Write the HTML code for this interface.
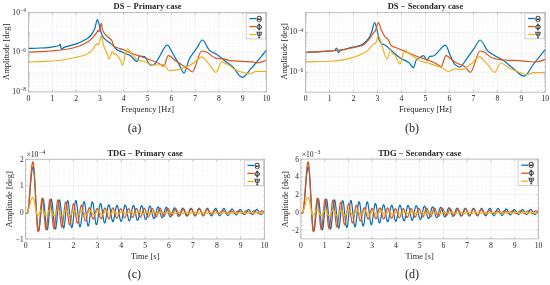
<!DOCTYPE html>
<html><head><meta charset="utf-8"><style>
html,body{margin:0;padding:0;background:#fff;}
body{width:550px;height:285px;overflow:hidden;font-family:"Liberation Serif",serif;}
svg{display:block;filter:blur(0.35px);}
</style></head><body>
<svg width="550" height="285" viewBox="0 0 550 285">
<rect width="550" height="285" fill="#fff"/>
<g font-family="Liberation Serif, serif" fill="#262626">
<line x1="33.26" y1="12.50" x2="33.26" y2="91.90" stroke="#f8f8f8" stroke-width="0.6"/>
<line x1="38.02" y1="12.50" x2="38.02" y2="91.90" stroke="#f8f8f8" stroke-width="0.6"/>
<line x1="42.79" y1="12.50" x2="42.79" y2="91.90" stroke="#f8f8f8" stroke-width="0.6"/>
<line x1="47.55" y1="12.50" x2="47.55" y2="91.90" stroke="#f8f8f8" stroke-width="0.6"/>
<line x1="57.07" y1="12.50" x2="57.07" y2="91.90" stroke="#f8f8f8" stroke-width="0.6"/>
<line x1="61.83" y1="12.50" x2="61.83" y2="91.90" stroke="#f8f8f8" stroke-width="0.6"/>
<line x1="66.60" y1="12.50" x2="66.60" y2="91.90" stroke="#f8f8f8" stroke-width="0.6"/>
<line x1="71.36" y1="12.50" x2="71.36" y2="91.90" stroke="#f8f8f8" stroke-width="0.6"/>
<line x1="80.88" y1="12.50" x2="80.88" y2="91.90" stroke="#f8f8f8" stroke-width="0.6"/>
<line x1="85.64" y1="12.50" x2="85.64" y2="91.90" stroke="#f8f8f8" stroke-width="0.6"/>
<line x1="90.41" y1="12.50" x2="90.41" y2="91.90" stroke="#f8f8f8" stroke-width="0.6"/>
<line x1="95.17" y1="12.50" x2="95.17" y2="91.90" stroke="#f8f8f8" stroke-width="0.6"/>
<line x1="104.69" y1="12.50" x2="104.69" y2="91.90" stroke="#f8f8f8" stroke-width="0.6"/>
<line x1="109.45" y1="12.50" x2="109.45" y2="91.90" stroke="#f8f8f8" stroke-width="0.6"/>
<line x1="114.22" y1="12.50" x2="114.22" y2="91.90" stroke="#f8f8f8" stroke-width="0.6"/>
<line x1="118.98" y1="12.50" x2="118.98" y2="91.90" stroke="#f8f8f8" stroke-width="0.6"/>
<line x1="128.50" y1="12.50" x2="128.50" y2="91.90" stroke="#f8f8f8" stroke-width="0.6"/>
<line x1="133.26" y1="12.50" x2="133.26" y2="91.90" stroke="#f8f8f8" stroke-width="0.6"/>
<line x1="138.03" y1="12.50" x2="138.03" y2="91.90" stroke="#f8f8f8" stroke-width="0.6"/>
<line x1="142.79" y1="12.50" x2="142.79" y2="91.90" stroke="#f8f8f8" stroke-width="0.6"/>
<line x1="152.31" y1="12.50" x2="152.31" y2="91.90" stroke="#f8f8f8" stroke-width="0.6"/>
<line x1="157.07" y1="12.50" x2="157.07" y2="91.90" stroke="#f8f8f8" stroke-width="0.6"/>
<line x1="161.84" y1="12.50" x2="161.84" y2="91.90" stroke="#f8f8f8" stroke-width="0.6"/>
<line x1="166.60" y1="12.50" x2="166.60" y2="91.90" stroke="#f8f8f8" stroke-width="0.6"/>
<line x1="176.12" y1="12.50" x2="176.12" y2="91.90" stroke="#f8f8f8" stroke-width="0.6"/>
<line x1="180.88" y1="12.50" x2="180.88" y2="91.90" stroke="#f8f8f8" stroke-width="0.6"/>
<line x1="185.65" y1="12.50" x2="185.65" y2="91.90" stroke="#f8f8f8" stroke-width="0.6"/>
<line x1="190.41" y1="12.50" x2="190.41" y2="91.90" stroke="#f8f8f8" stroke-width="0.6"/>
<line x1="199.93" y1="12.50" x2="199.93" y2="91.90" stroke="#f8f8f8" stroke-width="0.6"/>
<line x1="204.69" y1="12.50" x2="204.69" y2="91.90" stroke="#f8f8f8" stroke-width="0.6"/>
<line x1="209.46" y1="12.50" x2="209.46" y2="91.90" stroke="#f8f8f8" stroke-width="0.6"/>
<line x1="214.22" y1="12.50" x2="214.22" y2="91.90" stroke="#f8f8f8" stroke-width="0.6"/>
<line x1="223.74" y1="12.50" x2="223.74" y2="91.90" stroke="#f8f8f8" stroke-width="0.6"/>
<line x1="228.50" y1="12.50" x2="228.50" y2="91.90" stroke="#f8f8f8" stroke-width="0.6"/>
<line x1="233.27" y1="12.50" x2="233.27" y2="91.90" stroke="#f8f8f8" stroke-width="0.6"/>
<line x1="238.03" y1="12.50" x2="238.03" y2="91.90" stroke="#f8f8f8" stroke-width="0.6"/>
<line x1="247.55" y1="12.50" x2="247.55" y2="91.90" stroke="#f8f8f8" stroke-width="0.6"/>
<line x1="252.31" y1="12.50" x2="252.31" y2="91.90" stroke="#f8f8f8" stroke-width="0.6"/>
<line x1="257.08" y1="12.50" x2="257.08" y2="91.90" stroke="#f8f8f8" stroke-width="0.6"/>
<line x1="261.84" y1="12.50" x2="261.84" y2="91.90" stroke="#f8f8f8" stroke-width="0.6"/>
<line x1="28.50" y1="32.35" x2="266.60" y2="32.35" stroke="#f8f8f8" stroke-width="0.6"/>
<line x1="28.50" y1="26.37" x2="266.60" y2="26.37" stroke="#f8f8f8" stroke-width="0.6"/>
<line x1="28.50" y1="22.88" x2="266.60" y2="22.88" stroke="#f8f8f8" stroke-width="0.6"/>
<line x1="28.50" y1="20.40" x2="266.60" y2="20.40" stroke="#f8f8f8" stroke-width="0.6"/>
<line x1="28.50" y1="18.48" x2="266.60" y2="18.48" stroke="#f8f8f8" stroke-width="0.6"/>
<line x1="28.50" y1="16.90" x2="266.60" y2="16.90" stroke="#f8f8f8" stroke-width="0.6"/>
<line x1="28.50" y1="15.57" x2="266.60" y2="15.57" stroke="#f8f8f8" stroke-width="0.6"/>
<line x1="28.50" y1="14.42" x2="266.60" y2="14.42" stroke="#f8f8f8" stroke-width="0.6"/>
<line x1="28.50" y1="13.41" x2="266.60" y2="13.41" stroke="#f8f8f8" stroke-width="0.6"/>
<line x1="28.50" y1="46.22" x2="266.60" y2="46.22" stroke="#f8f8f8" stroke-width="0.6"/>
<line x1="28.50" y1="42.73" x2="266.60" y2="42.73" stroke="#f8f8f8" stroke-width="0.6"/>
<line x1="28.50" y1="40.25" x2="266.60" y2="40.25" stroke="#f8f8f8" stroke-width="0.6"/>
<line x1="28.50" y1="38.33" x2="266.60" y2="38.33" stroke="#f8f8f8" stroke-width="0.6"/>
<line x1="28.50" y1="36.75" x2="266.60" y2="36.75" stroke="#f8f8f8" stroke-width="0.6"/>
<line x1="28.50" y1="35.42" x2="266.60" y2="35.42" stroke="#f8f8f8" stroke-width="0.6"/>
<line x1="28.50" y1="34.27" x2="266.60" y2="34.27" stroke="#f8f8f8" stroke-width="0.6"/>
<line x1="28.50" y1="33.26" x2="266.60" y2="33.26" stroke="#f8f8f8" stroke-width="0.6"/>
<line x1="28.50" y1="72.05" x2="266.60" y2="72.05" stroke="#f8f8f8" stroke-width="0.6"/>
<line x1="28.50" y1="66.07" x2="266.60" y2="66.07" stroke="#f8f8f8" stroke-width="0.6"/>
<line x1="28.50" y1="62.58" x2="266.60" y2="62.58" stroke="#f8f8f8" stroke-width="0.6"/>
<line x1="28.50" y1="60.10" x2="266.60" y2="60.10" stroke="#f8f8f8" stroke-width="0.6"/>
<line x1="28.50" y1="58.18" x2="266.60" y2="58.18" stroke="#f8f8f8" stroke-width="0.6"/>
<line x1="28.50" y1="56.60" x2="266.60" y2="56.60" stroke="#f8f8f8" stroke-width="0.6"/>
<line x1="28.50" y1="55.27" x2="266.60" y2="55.27" stroke="#f8f8f8" stroke-width="0.6"/>
<line x1="28.50" y1="54.12" x2="266.60" y2="54.12" stroke="#f8f8f8" stroke-width="0.6"/>
<line x1="28.50" y1="53.11" x2="266.60" y2="53.11" stroke="#f8f8f8" stroke-width="0.6"/>
<line x1="28.50" y1="85.92" x2="266.60" y2="85.92" stroke="#f8f8f8" stroke-width="0.6"/>
<line x1="28.50" y1="82.43" x2="266.60" y2="82.43" stroke="#f8f8f8" stroke-width="0.6"/>
<line x1="28.50" y1="79.95" x2="266.60" y2="79.95" stroke="#f8f8f8" stroke-width="0.6"/>
<line x1="28.50" y1="78.03" x2="266.60" y2="78.03" stroke="#f8f8f8" stroke-width="0.6"/>
<line x1="28.50" y1="76.45" x2="266.60" y2="76.45" stroke="#f8f8f8" stroke-width="0.6"/>
<line x1="28.50" y1="75.12" x2="266.60" y2="75.12" stroke="#f8f8f8" stroke-width="0.6"/>
<line x1="28.50" y1="73.97" x2="266.60" y2="73.97" stroke="#f8f8f8" stroke-width="0.6"/>
<line x1="28.50" y1="72.96" x2="266.60" y2="72.96" stroke="#f8f8f8" stroke-width="0.6"/>
<line x1="28.50" y1="12.50" x2="28.50" y2="91.90" stroke="#ededed" stroke-width="0.7"/>
<line x1="52.31" y1="12.50" x2="52.31" y2="91.90" stroke="#ededed" stroke-width="0.7"/>
<line x1="76.12" y1="12.50" x2="76.12" y2="91.90" stroke="#ededed" stroke-width="0.7"/>
<line x1="99.93" y1="12.50" x2="99.93" y2="91.90" stroke="#ededed" stroke-width="0.7"/>
<line x1="123.74" y1="12.50" x2="123.74" y2="91.90" stroke="#ededed" stroke-width="0.7"/>
<line x1="147.55" y1="12.50" x2="147.55" y2="91.90" stroke="#ededed" stroke-width="0.7"/>
<line x1="171.36" y1="12.50" x2="171.36" y2="91.90" stroke="#ededed" stroke-width="0.7"/>
<line x1="195.17" y1="12.50" x2="195.17" y2="91.90" stroke="#ededed" stroke-width="0.7"/>
<line x1="218.98" y1="12.50" x2="218.98" y2="91.90" stroke="#ededed" stroke-width="0.7"/>
<line x1="242.79" y1="12.50" x2="242.79" y2="91.90" stroke="#ededed" stroke-width="0.7"/>
<line x1="266.60" y1="12.50" x2="266.60" y2="91.90" stroke="#ededed" stroke-width="0.7"/>
<line x1="28.50" y1="12.50" x2="266.60" y2="12.50" stroke="#ededed" stroke-width="0.7"/>
<line x1="28.50" y1="52.20" x2="266.60" y2="52.20" stroke="#ededed" stroke-width="0.7"/>
<line x1="28.50" y1="91.90" x2="266.60" y2="91.90" stroke="#ededed" stroke-width="0.7"/>
<path d="M28.50 48.40 C32.33 48.27 36.17 48.18 40.00 48.00 C43.33 47.84 46.67 47.64 50.00 47.30 C52.90 47.01 55.80 46.86 58.70 45.80 C59.17 45.63 59.63 44.20 60.10 44.20 C60.53 44.20 60.97 49.50 61.40 49.50 C62.13 49.50 62.87 47.96 63.60 47.60 C65.73 46.54 67.87 46.24 70.00 45.60 C72.33 44.90 74.67 44.42 77.00 43.60 C79.57 42.69 82.13 41.38 84.70 40.00 C85.80 39.41 86.90 38.82 88.00 38.00 C89.03 37.23 90.07 36.28 91.10 35.00 C92.33 33.47 93.57 31.47 94.80 28.50 C95.63 26.50 96.47 19.60 97.30 19.60 C97.90 19.60 98.50 22.19 99.10 24.30 C99.40 25.36 99.70 27.56 100.00 28.70 C100.83 31.87 101.67 34.51 102.50 36.00 C103.30 37.43 104.10 38.31 104.90 39.10 C106.53 40.70 108.17 41.48 109.80 42.80 C111.23 43.95 112.67 45.02 114.10 46.50 C114.93 47.36 115.77 49.03 116.60 49.60 C118.43 50.86 120.27 51.12 122.10 52.00 C123.07 52.46 124.03 53.07 125.00 53.50 C126.60 54.20 128.20 54.49 129.80 55.30 C132.27 56.54 134.73 61.50 137.20 61.50 C138.00 61.50 138.80 56.00 139.60 56.00 C141.23 56.00 142.87 56.24 144.50 56.60 C146.57 57.05 148.63 65.20 150.70 65.20 C151.80 65.20 152.90 64.89 154.00 64.50 C155.50 63.97 157.00 60.44 158.50 58.30 C161.43 54.12 164.37 45.20 167.30 45.20 C169.03 45.20 170.77 50.21 172.50 53.00 C174.87 56.80 177.23 61.23 179.60 65.40 C181.07 67.98 182.53 73.20 184.00 73.20 C185.73 73.20 187.47 62.53 189.20 59.20 C191.73 54.34 194.27 51.85 196.80 48.20 C198.70 45.46 200.60 40.00 202.50 40.00 C204.77 40.00 207.03 48.12 209.30 50.10 C212.53 52.93 215.77 53.60 219.00 55.90 C221.00 57.32 223.00 59.40 225.00 61.00 C227.43 62.95 229.87 64.35 232.30 66.50 C235.63 69.44 238.97 77.40 242.30 77.40 C245.03 77.40 247.77 72.15 250.50 69.20 C255.87 63.42 261.23 56.40 266.60 50.00" stroke="#0072BD" stroke-width="1.20" fill="none" stroke-linejoin="round"/>
<path d="M28.50 52.20 C34.00 51.90 39.50 51.66 45.00 51.30 C50.33 50.95 55.67 50.60 61.00 50.00 C65.67 49.47 70.33 48.70 75.00 47.50 C79.33 46.39 83.67 44.42 88.00 41.70 C89.47 40.78 90.93 39.32 92.40 37.80 C94.03 36.10 95.67 34.29 97.30 31.60 C97.50 31.27 97.70 30.40 97.90 30.40 C98.30 30.40 98.70 31.60 99.10 31.60 C99.83 31.60 100.57 23.30 101.30 23.30 C101.70 23.30 102.10 28.84 102.50 29.90 C103.70 33.07 104.90 34.10 106.10 35.40 C107.33 36.74 108.57 37.36 109.80 38.50 C110.43 39.08 111.07 39.51 111.70 40.40 C112.50 41.53 113.30 45.95 114.10 46.50 C115.13 47.22 116.17 47.34 117.20 47.70 C118.13 48.03 119.07 48.29 120.00 48.60 C121.53 49.11 123.07 49.58 124.60 50.20 C126.40 50.92 128.20 52.06 130.00 52.80 C134.83 54.79 139.67 56.05 144.50 57.80 C148.00 59.07 151.50 60.36 155.00 61.80 C156.67 62.49 158.33 63.16 160.00 64.00 C161.27 64.64 162.53 66.20 163.80 66.20 C165.27 66.20 166.73 55.70 168.20 55.70 C170.80 55.70 173.40 59.28 176.00 61.00 C180.10 63.71 184.20 66.23 188.30 68.90 C189.77 69.86 191.23 71.80 192.70 71.80 C193.47 71.80 194.23 68.78 195.00 67.10 C197.20 62.28 199.40 51.00 201.60 51.00 C203.20 51.00 204.80 51.51 206.40 52.00 C209.27 52.87 212.13 57.12 215.00 57.80 C218.33 58.59 221.67 58.51 225.00 59.20 C226.53 59.52 228.07 60.55 229.60 60.70 C234.13 61.16 238.67 61.16 243.20 61.40 C246.27 61.56 249.33 61.62 252.40 61.90 C253.93 62.04 255.47 62.80 257.00 62.80 C260.20 62.80 263.40 61.20 266.60 60.40" stroke="#D95319" stroke-width="1.20" fill="none" stroke-linejoin="round"/>
<path d="M28.50 61.90 C34.00 61.73 39.50 61.63 45.00 61.40 C49.57 61.21 54.13 60.93 58.70 60.50 C64.80 59.92 70.90 58.46 77.00 57.10 C79.67 56.51 82.33 55.94 85.00 55.00 C86.00 54.65 87.00 54.19 88.00 53.60 C89.47 52.73 90.93 51.29 92.40 49.80 C94.03 48.14 95.67 43.70 97.30 43.70 C97.70 43.70 98.10 44.90 98.50 44.90 C99.43 44.90 100.37 36.10 101.30 36.10 C102.10 36.10 102.90 43.54 103.70 45.90 C104.63 48.66 105.57 50.11 106.50 52.30 C107.40 54.41 108.30 58.80 109.20 58.80 C110.23 58.80 111.27 51.40 112.30 51.40 C112.90 51.40 113.50 54.50 114.10 54.50 C114.53 54.50 114.97 53.90 115.40 53.90 C117.03 53.90 118.67 57.17 120.30 60.00 C121.00 61.21 121.70 65.20 122.40 65.20 C123.33 65.20 124.27 57.84 125.20 55.00 C125.93 52.77 126.67 49.20 127.40 49.20 C129.03 49.20 130.67 53.06 132.30 54.70 C134.33 56.74 136.37 59.50 138.40 60.20 C140.43 60.90 142.47 60.89 144.50 61.50 C146.13 61.99 147.77 63.44 149.40 63.90 C151.27 64.43 153.13 65.00 155.00 65.00 C157.93 65.00 160.87 64.50 163.80 64.50 C165.53 64.50 167.27 70.60 169.00 70.60 C171.93 70.60 174.87 70.16 177.80 69.70 C180.43 69.29 183.07 68.16 185.70 67.10 C187.13 66.53 188.57 65.79 190.00 65.00 C191.67 64.08 193.33 62.94 195.00 61.80 C197.20 60.29 199.40 56.90 201.60 56.90 C204.17 56.90 206.73 61.85 209.30 64.60 C211.53 66.99 213.77 72.30 216.00 72.30 C217.97 72.30 219.93 61.70 221.90 61.70 C222.93 61.70 223.97 62.88 225.00 63.40 C226.53 64.17 228.07 64.60 229.60 65.50 C231.10 66.38 232.60 68.41 234.10 69.20 C237.13 70.80 240.17 71.78 243.20 72.50 C245.63 73.07 248.07 73.80 250.50 73.80 C252.33 73.80 254.17 71.40 256.00 71.40 C259.53 71.40 263.07 71.40 266.60 71.40" stroke="#EDB120" stroke-width="1.20" fill="none" stroke-linejoin="round"/>
<path d="M28.50 91.90V89.50M28.50 12.50V14.90M52.31 91.90V89.50M52.31 12.50V14.90M76.12 91.90V89.50M76.12 12.50V14.90M99.93 91.90V89.50M99.93 12.50V14.90M123.74 91.90V89.50M123.74 12.50V14.90M147.55 91.90V89.50M147.55 12.50V14.90M171.36 91.90V89.50M171.36 12.50V14.90M195.17 91.90V89.50M195.17 12.50V14.90M218.98 91.90V89.50M218.98 12.50V14.90M242.79 91.90V89.50M242.79 12.50V14.90M266.60 91.90V89.50M266.60 12.50V14.90M28.50 12.50H30.90M266.60 12.50H264.20M28.50 52.20H30.90M266.60 52.20H264.20M28.50 91.90H30.90M266.60 91.90H264.20M28.50 32.35H29.80M266.60 32.35H265.30M28.50 26.37H29.80M266.60 26.37H265.30M28.50 22.88H29.80M266.60 22.88H265.30M28.50 20.40H29.80M266.60 20.40H265.30M28.50 18.48H29.80M266.60 18.48H265.30M28.50 16.90H29.80M266.60 16.90H265.30M28.50 15.57H29.80M266.60 15.57H265.30M28.50 14.42H29.80M266.60 14.42H265.30M28.50 13.41H29.80M266.60 13.41H265.30M28.50 46.22H29.80M266.60 46.22H265.30M28.50 42.73H29.80M266.60 42.73H265.30M28.50 40.25H29.80M266.60 40.25H265.30M28.50 38.33H29.80M266.60 38.33H265.30M28.50 36.75H29.80M266.60 36.75H265.30M28.50 35.42H29.80M266.60 35.42H265.30M28.50 34.27H29.80M266.60 34.27H265.30M28.50 33.26H29.80M266.60 33.26H265.30M28.50 72.05H29.80M266.60 72.05H265.30M28.50 66.07H29.80M266.60 66.07H265.30M28.50 62.58H29.80M266.60 62.58H265.30M28.50 60.10H29.80M266.60 60.10H265.30M28.50 58.18H29.80M266.60 58.18H265.30M28.50 56.60H29.80M266.60 56.60H265.30M28.50 55.27H29.80M266.60 55.27H265.30M28.50 54.12H29.80M266.60 54.12H265.30M28.50 53.11H29.80M266.60 53.11H265.30M28.50 85.92H29.80M266.60 85.92H265.30M28.50 82.43H29.80M266.60 82.43H265.30M28.50 79.95H29.80M266.60 79.95H265.30M28.50 78.03H29.80M266.60 78.03H265.30M28.50 76.45H29.80M266.60 76.45H265.30M28.50 75.12H29.80M266.60 75.12H265.30M28.50 73.97H29.80M266.60 73.97H265.30M28.50 72.96H29.80M266.60 72.96H265.30" stroke="#b4b4b4" stroke-width="0.7" fill="none"/>
<rect x="28.50" y="12.50" width="238.10" height="79.40" fill="none" stroke="#b4b4b4" stroke-width="0.8"/>
<text x="28.50" y="100.80" font-size="7.70" text-anchor="middle" font-weight="normal" >0</text>
<text x="52.31" y="100.80" font-size="7.70" text-anchor="middle" font-weight="normal" >1</text>
<text x="76.12" y="100.80" font-size="7.70" text-anchor="middle" font-weight="normal" >2</text>
<text x="99.93" y="100.80" font-size="7.70" text-anchor="middle" font-weight="normal" >3</text>
<text x="123.74" y="100.80" font-size="7.70" text-anchor="middle" font-weight="normal" >4</text>
<text x="147.55" y="100.80" font-size="7.70" text-anchor="middle" font-weight="normal" >5</text>
<text x="171.36" y="100.80" font-size="7.70" text-anchor="middle" font-weight="normal" >6</text>
<text x="195.17" y="100.80" font-size="7.70" text-anchor="middle" font-weight="normal" >7</text>
<text x="218.98" y="100.80" font-size="7.70" text-anchor="middle" font-weight="normal" >8</text>
<text x="242.79" y="100.80" font-size="7.70" text-anchor="middle" font-weight="normal" >9</text>
<text x="266.60" y="100.80" font-size="7.70" text-anchor="middle" font-weight="normal" >10</text>
<text x="26.00" y="14.60" font-size="7.70" text-anchor="end">10<tspan font-size="5.30" dy="-2.7" dx="0.3">−4</tspan></text>
<text x="26.00" y="54.30" font-size="7.70" text-anchor="end">10<tspan font-size="5.30" dy="-2.7" dx="0.3">−6</tspan></text>
<text x="26.00" y="94.00" font-size="7.70" text-anchor="end">10<tspan font-size="5.30" dy="-2.7" dx="0.3">−8</tspan></text>
<text x="147.55" y="9.10" font-size="8.50" text-anchor="middle" font-weight="bold" >DS − Primary case</text>
<text x="147.55" y="111.60" font-size="8.40" text-anchor="middle" font-weight="normal" >Frequency [Hz]</text>
<text transform="translate(9.30 51.80) rotate(-90)" font-size="8.50" text-anchor="middle">Amplitude [deg]</text>
<text x="134.50" y="132.00" font-size="12.20" text-anchor="middle" font-weight="normal" >(a)</text>
<rect x="246.20" y="13.30" width="19.40" height="25.60" fill="#fff" stroke="#c4c4c4" stroke-width="0.8"/>
<line x1="249.40" y1="18.60" x2="256.10" y2="18.60" stroke="#0072BD" stroke-width="1.3"/>
<text x="256.60" y="21.70" font-size="7.40" text-anchor="start" font-weight="normal" stroke="#333" stroke-width="0.3">Θ</text>
<line x1="249.40" y1="26.60" x2="256.10" y2="26.60" stroke="#D95319" stroke-width="1.3"/>
<text x="256.60" y="29.70" font-size="7.40" text-anchor="start" font-weight="normal" stroke="#333" stroke-width="0.3">Φ</text>
<line x1="249.40" y1="34.60" x2="256.10" y2="34.60" stroke="#EDB120" stroke-width="1.3"/>
<text x="256.60" y="37.70" font-size="7.40" text-anchor="start" font-weight="normal" stroke="#333" stroke-width="0.3">Ψ</text>
<line x1="310.39" y1="12.40" x2="310.39" y2="92.20" stroke="#f8f8f8" stroke-width="0.6"/>
<line x1="315.19" y1="12.40" x2="315.19" y2="92.20" stroke="#f8f8f8" stroke-width="0.6"/>
<line x1="319.98" y1="12.40" x2="319.98" y2="92.20" stroke="#f8f8f8" stroke-width="0.6"/>
<line x1="324.78" y1="12.40" x2="324.78" y2="92.20" stroke="#f8f8f8" stroke-width="0.6"/>
<line x1="334.36" y1="12.40" x2="334.36" y2="92.20" stroke="#f8f8f8" stroke-width="0.6"/>
<line x1="339.16" y1="12.40" x2="339.16" y2="92.20" stroke="#f8f8f8" stroke-width="0.6"/>
<line x1="343.95" y1="12.40" x2="343.95" y2="92.20" stroke="#f8f8f8" stroke-width="0.6"/>
<line x1="348.75" y1="12.40" x2="348.75" y2="92.20" stroke="#f8f8f8" stroke-width="0.6"/>
<line x1="358.33" y1="12.40" x2="358.33" y2="92.20" stroke="#f8f8f8" stroke-width="0.6"/>
<line x1="363.13" y1="12.40" x2="363.13" y2="92.20" stroke="#f8f8f8" stroke-width="0.6"/>
<line x1="367.92" y1="12.40" x2="367.92" y2="92.20" stroke="#f8f8f8" stroke-width="0.6"/>
<line x1="372.72" y1="12.40" x2="372.72" y2="92.20" stroke="#f8f8f8" stroke-width="0.6"/>
<line x1="382.30" y1="12.40" x2="382.30" y2="92.20" stroke="#f8f8f8" stroke-width="0.6"/>
<line x1="387.10" y1="12.40" x2="387.10" y2="92.20" stroke="#f8f8f8" stroke-width="0.6"/>
<line x1="391.89" y1="12.40" x2="391.89" y2="92.20" stroke="#f8f8f8" stroke-width="0.6"/>
<line x1="396.69" y1="12.40" x2="396.69" y2="92.20" stroke="#f8f8f8" stroke-width="0.6"/>
<line x1="406.27" y1="12.40" x2="406.27" y2="92.20" stroke="#f8f8f8" stroke-width="0.6"/>
<line x1="411.07" y1="12.40" x2="411.07" y2="92.20" stroke="#f8f8f8" stroke-width="0.6"/>
<line x1="415.86" y1="12.40" x2="415.86" y2="92.20" stroke="#f8f8f8" stroke-width="0.6"/>
<line x1="420.66" y1="12.40" x2="420.66" y2="92.20" stroke="#f8f8f8" stroke-width="0.6"/>
<line x1="430.24" y1="12.40" x2="430.24" y2="92.20" stroke="#f8f8f8" stroke-width="0.6"/>
<line x1="435.04" y1="12.40" x2="435.04" y2="92.20" stroke="#f8f8f8" stroke-width="0.6"/>
<line x1="439.83" y1="12.40" x2="439.83" y2="92.20" stroke="#f8f8f8" stroke-width="0.6"/>
<line x1="444.63" y1="12.40" x2="444.63" y2="92.20" stroke="#f8f8f8" stroke-width="0.6"/>
<line x1="454.21" y1="12.40" x2="454.21" y2="92.20" stroke="#f8f8f8" stroke-width="0.6"/>
<line x1="459.01" y1="12.40" x2="459.01" y2="92.20" stroke="#f8f8f8" stroke-width="0.6"/>
<line x1="463.80" y1="12.40" x2="463.80" y2="92.20" stroke="#f8f8f8" stroke-width="0.6"/>
<line x1="468.60" y1="12.40" x2="468.60" y2="92.20" stroke="#f8f8f8" stroke-width="0.6"/>
<line x1="478.18" y1="12.40" x2="478.18" y2="92.20" stroke="#f8f8f8" stroke-width="0.6"/>
<line x1="482.98" y1="12.40" x2="482.98" y2="92.20" stroke="#f8f8f8" stroke-width="0.6"/>
<line x1="487.77" y1="12.40" x2="487.77" y2="92.20" stroke="#f8f8f8" stroke-width="0.6"/>
<line x1="492.57" y1="12.40" x2="492.57" y2="92.20" stroke="#f8f8f8" stroke-width="0.6"/>
<line x1="502.15" y1="12.40" x2="502.15" y2="92.20" stroke="#f8f8f8" stroke-width="0.6"/>
<line x1="506.95" y1="12.40" x2="506.95" y2="92.20" stroke="#f8f8f8" stroke-width="0.6"/>
<line x1="511.74" y1="12.40" x2="511.74" y2="92.20" stroke="#f8f8f8" stroke-width="0.6"/>
<line x1="516.54" y1="12.40" x2="516.54" y2="92.20" stroke="#f8f8f8" stroke-width="0.6"/>
<line x1="526.12" y1="12.40" x2="526.12" y2="92.20" stroke="#f8f8f8" stroke-width="0.6"/>
<line x1="530.92" y1="12.40" x2="530.92" y2="92.20" stroke="#f8f8f8" stroke-width="0.6"/>
<line x1="535.71" y1="12.40" x2="535.71" y2="92.20" stroke="#f8f8f8" stroke-width="0.6"/>
<line x1="540.51" y1="12.40" x2="540.51" y2="92.20" stroke="#f8f8f8" stroke-width="0.6"/>
<line x1="305.60" y1="12.40" x2="545.30" y2="12.40" stroke="#f8f8f8" stroke-width="0.6"/>
<line x1="305.60" y1="26.31" x2="545.30" y2="26.31" stroke="#f8f8f8" stroke-width="0.6"/>
<line x1="305.60" y1="22.81" x2="545.30" y2="22.81" stroke="#f8f8f8" stroke-width="0.6"/>
<line x1="305.60" y1="20.32" x2="545.30" y2="20.32" stroke="#f8f8f8" stroke-width="0.6"/>
<line x1="305.60" y1="18.39" x2="545.30" y2="18.39" stroke="#f8f8f8" stroke-width="0.6"/>
<line x1="305.60" y1="16.81" x2="545.30" y2="16.81" stroke="#f8f8f8" stroke-width="0.6"/>
<line x1="305.60" y1="15.48" x2="545.30" y2="15.48" stroke="#f8f8f8" stroke-width="0.6"/>
<line x1="305.60" y1="14.33" x2="545.30" y2="14.33" stroke="#f8f8f8" stroke-width="0.6"/>
<line x1="305.60" y1="13.31" x2="545.30" y2="13.31" stroke="#f8f8f8" stroke-width="0.6"/>
<line x1="305.60" y1="52.20" x2="545.30" y2="52.20" stroke="#f8f8f8" stroke-width="0.6"/>
<line x1="305.60" y1="46.21" x2="545.30" y2="46.21" stroke="#f8f8f8" stroke-width="0.6"/>
<line x1="305.60" y1="42.71" x2="545.30" y2="42.71" stroke="#f8f8f8" stroke-width="0.6"/>
<line x1="305.60" y1="40.22" x2="545.30" y2="40.22" stroke="#f8f8f8" stroke-width="0.6"/>
<line x1="305.60" y1="38.29" x2="545.30" y2="38.29" stroke="#f8f8f8" stroke-width="0.6"/>
<line x1="305.60" y1="36.71" x2="545.30" y2="36.71" stroke="#f8f8f8" stroke-width="0.6"/>
<line x1="305.60" y1="35.38" x2="545.30" y2="35.38" stroke="#f8f8f8" stroke-width="0.6"/>
<line x1="305.60" y1="34.23" x2="545.30" y2="34.23" stroke="#f8f8f8" stroke-width="0.6"/>
<line x1="305.60" y1="33.21" x2="545.30" y2="33.21" stroke="#f8f8f8" stroke-width="0.6"/>
<line x1="305.60" y1="66.11" x2="545.30" y2="66.11" stroke="#f8f8f8" stroke-width="0.6"/>
<line x1="305.60" y1="62.61" x2="545.30" y2="62.61" stroke="#f8f8f8" stroke-width="0.6"/>
<line x1="305.60" y1="60.12" x2="545.30" y2="60.12" stroke="#f8f8f8" stroke-width="0.6"/>
<line x1="305.60" y1="58.19" x2="545.30" y2="58.19" stroke="#f8f8f8" stroke-width="0.6"/>
<line x1="305.60" y1="56.61" x2="545.30" y2="56.61" stroke="#f8f8f8" stroke-width="0.6"/>
<line x1="305.60" y1="55.28" x2="545.30" y2="55.28" stroke="#f8f8f8" stroke-width="0.6"/>
<line x1="305.60" y1="54.13" x2="545.30" y2="54.13" stroke="#f8f8f8" stroke-width="0.6"/>
<line x1="305.60" y1="53.11" x2="545.30" y2="53.11" stroke="#f8f8f8" stroke-width="0.6"/>
<line x1="305.60" y1="92.00" x2="545.30" y2="92.00" stroke="#f8f8f8" stroke-width="0.6"/>
<line x1="305.60" y1="86.01" x2="545.30" y2="86.01" stroke="#f8f8f8" stroke-width="0.6"/>
<line x1="305.60" y1="82.51" x2="545.30" y2="82.51" stroke="#f8f8f8" stroke-width="0.6"/>
<line x1="305.60" y1="80.02" x2="545.30" y2="80.02" stroke="#f8f8f8" stroke-width="0.6"/>
<line x1="305.60" y1="78.09" x2="545.30" y2="78.09" stroke="#f8f8f8" stroke-width="0.6"/>
<line x1="305.60" y1="76.51" x2="545.30" y2="76.51" stroke="#f8f8f8" stroke-width="0.6"/>
<line x1="305.60" y1="75.18" x2="545.30" y2="75.18" stroke="#f8f8f8" stroke-width="0.6"/>
<line x1="305.60" y1="74.03" x2="545.30" y2="74.03" stroke="#f8f8f8" stroke-width="0.6"/>
<line x1="305.60" y1="73.01" x2="545.30" y2="73.01" stroke="#f8f8f8" stroke-width="0.6"/>
<line x1="305.60" y1="12.40" x2="305.60" y2="92.20" stroke="#ededed" stroke-width="0.7"/>
<line x1="329.57" y1="12.40" x2="329.57" y2="92.20" stroke="#ededed" stroke-width="0.7"/>
<line x1="353.54" y1="12.40" x2="353.54" y2="92.20" stroke="#ededed" stroke-width="0.7"/>
<line x1="377.51" y1="12.40" x2="377.51" y2="92.20" stroke="#ededed" stroke-width="0.7"/>
<line x1="401.48" y1="12.40" x2="401.48" y2="92.20" stroke="#ededed" stroke-width="0.7"/>
<line x1="425.45" y1="12.40" x2="425.45" y2="92.20" stroke="#ededed" stroke-width="0.7"/>
<line x1="449.42" y1="12.40" x2="449.42" y2="92.20" stroke="#ededed" stroke-width="0.7"/>
<line x1="473.39" y1="12.40" x2="473.39" y2="92.20" stroke="#ededed" stroke-width="0.7"/>
<line x1="497.36" y1="12.40" x2="497.36" y2="92.20" stroke="#ededed" stroke-width="0.7"/>
<line x1="521.33" y1="12.40" x2="521.33" y2="92.20" stroke="#ededed" stroke-width="0.7"/>
<line x1="545.30" y1="12.40" x2="545.30" y2="92.20" stroke="#ededed" stroke-width="0.7"/>
<line x1="305.60" y1="32.30" x2="545.30" y2="32.30" stroke="#ededed" stroke-width="0.7"/>
<line x1="305.60" y1="72.10" x2="545.30" y2="72.10" stroke="#ededed" stroke-width="0.7"/>
<path d="M305.60 52.30 C310.40 52.07 315.20 51.88 320.00 51.60 C324.83 51.31 329.67 51.38 334.50 50.50 C335.20 50.37 335.90 48.10 336.60 48.10 C337.23 48.10 337.87 52.60 338.50 52.60 C339.17 52.60 339.83 50.57 340.50 50.30 C342.00 49.69 343.50 49.66 345.00 49.30 C347.67 48.66 350.33 47.96 353.00 47.20 C356.20 46.29 359.40 45.77 362.60 44.20 C364.73 43.15 366.87 40.98 369.00 37.90 C370.03 36.41 371.07 33.66 372.10 30.80 C372.90 28.59 373.70 22.60 374.50 22.60 C375.30 22.60 376.10 26.39 376.90 29.20 C377.67 31.89 378.43 38.73 379.20 40.30 C380.00 41.94 380.80 42.83 381.60 43.40 C382.73 44.20 383.87 44.33 385.00 45.00 C387.10 46.25 389.20 48.71 391.30 50.50 C394.47 53.20 397.63 56.42 400.80 58.40 C403.43 60.05 406.07 60.51 408.70 62.40 C410.27 63.52 411.83 67.60 413.40 67.60 C414.47 67.60 415.53 60.10 416.60 59.20 C417.73 58.24 418.87 58.07 420.00 57.50 C421.17 56.91 422.33 55.70 423.50 55.70 C424.67 55.70 425.83 60.10 427.00 60.10 C427.87 60.10 428.73 56.93 429.60 56.60 C431.07 56.04 432.53 56.19 434.00 55.70 C435.77 55.11 437.53 52.03 439.30 50.40 C441.33 48.53 443.37 45.20 445.40 45.20 C447.17 45.20 448.93 53.13 450.70 56.60 C452.17 59.48 453.63 63.39 455.10 64.60 C456.67 65.90 458.23 67.10 459.80 67.10 C462.07 67.10 464.33 61.73 466.60 58.80 C469.17 55.48 471.73 51.78 474.30 48.20 C476.23 45.50 478.17 40.00 480.10 40.00 C482.67 40.00 485.23 48.69 487.80 51.00 C489.73 52.74 491.67 53.70 493.60 54.90 C496.63 56.79 499.67 58.09 502.70 60.10 C505.93 62.24 509.17 65.36 512.40 67.80 C516.27 70.71 520.13 76.10 524.00 76.10 C527.20 76.10 530.40 68.00 533.60 64.00 C537.50 59.12 541.40 54.33 545.30 49.50" stroke="#0072BD" stroke-width="1.20" fill="none" stroke-linejoin="round"/>
<path d="M305.60 52.30 C310.40 52.07 315.20 51.87 320.00 51.60 C324.83 51.32 329.67 51.03 334.50 50.60 C338.00 50.29 341.50 49.85 345.00 49.30 C347.67 48.88 350.33 48.21 353.00 47.60 C356.20 46.87 359.40 46.51 362.60 45.20 C364.73 44.33 366.87 41.72 369.00 39.30 C370.57 37.53 372.13 34.53 373.70 32.60 C374.23 31.94 374.77 31.61 375.30 30.80 C376.33 29.24 377.37 22.60 378.40 22.60 C379.47 22.60 380.53 28.61 381.60 30.80 C382.67 32.99 383.73 35.00 384.80 36.30 C385.93 37.68 387.07 38.03 388.20 39.50 C389.23 40.84 390.27 45.08 391.30 45.80 C393.40 47.26 395.50 47.35 397.60 48.20 C401.83 49.90 406.07 51.96 410.30 53.70 C413.53 55.03 416.77 56.33 420.00 57.50 C423.50 58.76 427.00 59.58 430.50 61.00 C432.83 61.95 435.17 63.15 437.50 64.50 C438.67 65.17 439.83 66.80 441.00 66.80 C442.67 66.80 444.33 55.70 446.00 55.70 C448.43 55.70 450.87 59.52 453.30 61.00 C455.53 62.35 457.77 63.46 460.00 64.50 C461.57 65.23 463.13 65.57 464.70 66.50 C466.60 67.63 468.50 72.30 470.40 72.30 C473.63 72.30 476.87 51.00 480.10 51.00 C481.40 51.00 482.70 51.53 484.00 52.00 C486.57 52.93 489.13 56.89 491.70 57.80 C494.47 58.78 497.23 59.44 500.00 59.70 C502.20 59.91 504.40 59.97 506.60 60.10 C512.40 60.44 518.20 60.71 524.00 61.10 C527.83 61.36 531.67 62.00 535.50 62.00 C538.77 62.00 542.03 60.47 545.30 59.70" stroke="#D95319" stroke-width="1.20" fill="none" stroke-linejoin="round"/>
<path d="M305.60 61.90 C315.23 61.60 324.87 61.54 334.50 61.00 C339.67 60.71 344.83 59.62 350.00 58.40 C355.27 57.16 360.53 55.25 365.80 52.10 C368.43 50.52 371.07 46.29 373.70 44.20 C374.47 43.59 375.23 43.46 376.00 42.60 C376.80 41.70 377.60 35.50 378.40 35.50 C379.47 35.50 380.53 41.30 381.60 44.20 C383.43 49.19 385.27 59.20 387.10 59.20 C388.23 59.20 389.37 50.50 390.50 50.50 C391.30 50.50 392.10 53.14 392.90 53.70 C393.43 54.08 393.97 54.12 394.50 54.50 C396.33 55.79 398.17 64.00 400.00 64.00 C401.57 64.00 403.13 49.70 404.70 49.70 C405.50 49.70 406.30 51.42 407.10 52.10 C409.73 54.33 412.37 55.79 415.00 57.60 C416.67 58.75 418.33 60.39 420.00 61.00 C422.33 61.86 424.67 62.05 427.00 62.70 C430.50 63.67 434.00 65.02 437.50 66.20 C439.27 66.80 441.03 67.20 442.80 68.00 C444.53 68.78 446.27 71.50 448.00 71.50 C450.37 71.50 452.73 68.90 455.10 68.90 C457.00 68.90 458.90 69.40 460.80 69.40 C464.00 69.40 467.20 66.65 470.40 64.60 C473.30 62.74 476.20 56.90 479.10 56.90 C482.00 56.90 484.90 61.70 487.80 64.60 C490.07 66.86 492.33 72.30 494.60 72.30 C496.67 72.30 498.73 63.00 500.80 63.00 C503.37 63.00 505.93 66.51 508.50 67.80 C512.37 69.75 516.23 71.29 520.10 72.60 C522.37 73.37 524.63 74.60 526.90 74.60 C529.13 74.60 531.37 72.60 533.60 72.60 C537.50 72.60 541.40 72.60 545.30 72.60" stroke="#EDB120" stroke-width="1.20" fill="none" stroke-linejoin="round"/>
<path d="M305.60 92.20V89.80M305.60 12.40V14.80M329.57 92.20V89.80M329.57 12.40V14.80M353.54 92.20V89.80M353.54 12.40V14.80M377.51 92.20V89.80M377.51 12.40V14.80M401.48 92.20V89.80M401.48 12.40V14.80M425.45 92.20V89.80M425.45 12.40V14.80M449.42 92.20V89.80M449.42 12.40V14.80M473.39 92.20V89.80M473.39 12.40V14.80M497.36 92.20V89.80M497.36 12.40V14.80M521.33 92.20V89.80M521.33 12.40V14.80M545.30 92.20V89.80M545.30 12.40V14.80M305.60 32.30H308.00M545.30 32.30H542.90M305.60 72.10H308.00M545.30 72.10H542.90M305.60 12.40H306.90M545.30 12.40H544.00M305.60 26.31H306.90M545.30 26.31H544.00M305.60 22.81H306.90M545.30 22.81H544.00M305.60 20.32H306.90M545.30 20.32H544.00M305.60 18.39H306.90M545.30 18.39H544.00M305.60 16.81H306.90M545.30 16.81H544.00M305.60 15.48H306.90M545.30 15.48H544.00M305.60 14.33H306.90M545.30 14.33H544.00M305.60 13.31H306.90M545.30 13.31H544.00M305.60 52.20H306.90M545.30 52.20H544.00M305.60 46.21H306.90M545.30 46.21H544.00M305.60 42.71H306.90M545.30 42.71H544.00M305.60 40.22H306.90M545.30 40.22H544.00M305.60 38.29H306.90M545.30 38.29H544.00M305.60 36.71H306.90M545.30 36.71H544.00M305.60 35.38H306.90M545.30 35.38H544.00M305.60 34.23H306.90M545.30 34.23H544.00M305.60 33.21H306.90M545.30 33.21H544.00M305.60 66.11H306.90M545.30 66.11H544.00M305.60 62.61H306.90M545.30 62.61H544.00M305.60 60.12H306.90M545.30 60.12H544.00M305.60 58.19H306.90M545.30 58.19H544.00M305.60 56.61H306.90M545.30 56.61H544.00M305.60 55.28H306.90M545.30 55.28H544.00M305.60 54.13H306.90M545.30 54.13H544.00M305.60 53.11H306.90M545.30 53.11H544.00M305.60 92.00H306.90M545.30 92.00H544.00M305.60 86.01H306.90M545.30 86.01H544.00M305.60 82.51H306.90M545.30 82.51H544.00M305.60 80.02H306.90M545.30 80.02H544.00M305.60 78.09H306.90M545.30 78.09H544.00M305.60 76.51H306.90M545.30 76.51H544.00M305.60 75.18H306.90M545.30 75.18H544.00M305.60 74.03H306.90M545.30 74.03H544.00M305.60 73.01H306.90M545.30 73.01H544.00" stroke="#b4b4b4" stroke-width="0.7" fill="none"/>
<rect x="305.60" y="12.40" width="239.70" height="79.80" fill="none" stroke="#b4b4b4" stroke-width="0.8"/>
<text x="305.60" y="101.10" font-size="7.70" text-anchor="middle" font-weight="normal" >0</text>
<text x="329.57" y="101.10" font-size="7.70" text-anchor="middle" font-weight="normal" >1</text>
<text x="353.54" y="101.10" font-size="7.70" text-anchor="middle" font-weight="normal" >2</text>
<text x="377.51" y="101.10" font-size="7.70" text-anchor="middle" font-weight="normal" >3</text>
<text x="401.48" y="101.10" font-size="7.70" text-anchor="middle" font-weight="normal" >4</text>
<text x="425.45" y="101.10" font-size="7.70" text-anchor="middle" font-weight="normal" >5</text>
<text x="449.42" y="101.10" font-size="7.70" text-anchor="middle" font-weight="normal" >6</text>
<text x="473.39" y="101.10" font-size="7.70" text-anchor="middle" font-weight="normal" >7</text>
<text x="497.36" y="101.10" font-size="7.70" text-anchor="middle" font-weight="normal" >8</text>
<text x="521.33" y="101.10" font-size="7.70" text-anchor="middle" font-weight="normal" >9</text>
<text x="545.30" y="101.10" font-size="7.70" text-anchor="middle" font-weight="normal" >10</text>
<text x="303.10" y="34.40" font-size="7.70" text-anchor="end">10<tspan font-size="5.30" dy="-2.7" dx="0.3">−4</tspan></text>
<text x="303.10" y="74.20" font-size="7.70" text-anchor="end">10<tspan font-size="5.30" dy="-2.7" dx="0.3">−6</tspan></text>
<text x="425.45" y="9.10" font-size="8.50" text-anchor="middle" font-weight="bold" >DS − Secondary case</text>
<text x="425.45" y="111.60" font-size="8.40" text-anchor="middle" font-weight="normal" >Frequency [Hz]</text>
<text transform="translate(287.20 51.50) rotate(-90)" font-size="8.50" text-anchor="middle">Amplitude [deg]</text>
<text x="412.00" y="132.00" font-size="12.20" text-anchor="middle" font-weight="normal" >(b)</text>
<rect x="524.90" y="13.20" width="19.40" height="25.60" fill="#fff" stroke="#c4c4c4" stroke-width="0.8"/>
<line x1="528.10" y1="18.50" x2="534.80" y2="18.50" stroke="#0072BD" stroke-width="1.3"/>
<text x="535.30" y="21.60" font-size="7.40" text-anchor="start" font-weight="normal" stroke="#333" stroke-width="0.3">Θ</text>
<line x1="528.10" y1="26.50" x2="534.80" y2="26.50" stroke="#D95319" stroke-width="1.3"/>
<text x="535.30" y="29.60" font-size="7.40" text-anchor="start" font-weight="normal" stroke="#333" stroke-width="0.3">Φ</text>
<line x1="528.10" y1="34.50" x2="534.80" y2="34.50" stroke="#EDB120" stroke-width="1.3"/>
<text x="535.30" y="37.60" font-size="7.40" text-anchor="start" font-weight="normal" stroke="#333" stroke-width="0.3">Ψ</text>
<line x1="30.38" y1="159.30" x2="30.38" y2="239.00" stroke="#f8f8f8" stroke-width="0.6"/>
<line x1="35.16" y1="159.30" x2="35.16" y2="239.00" stroke="#f8f8f8" stroke-width="0.6"/>
<line x1="39.94" y1="159.30" x2="39.94" y2="239.00" stroke="#f8f8f8" stroke-width="0.6"/>
<line x1="44.72" y1="159.30" x2="44.72" y2="239.00" stroke="#f8f8f8" stroke-width="0.6"/>
<line x1="54.28" y1="159.30" x2="54.28" y2="239.00" stroke="#f8f8f8" stroke-width="0.6"/>
<line x1="59.06" y1="159.30" x2="59.06" y2="239.00" stroke="#f8f8f8" stroke-width="0.6"/>
<line x1="63.84" y1="159.30" x2="63.84" y2="239.00" stroke="#f8f8f8" stroke-width="0.6"/>
<line x1="68.62" y1="159.30" x2="68.62" y2="239.00" stroke="#f8f8f8" stroke-width="0.6"/>
<line x1="78.18" y1="159.30" x2="78.18" y2="239.00" stroke="#f8f8f8" stroke-width="0.6"/>
<line x1="82.96" y1="159.30" x2="82.96" y2="239.00" stroke="#f8f8f8" stroke-width="0.6"/>
<line x1="87.74" y1="159.30" x2="87.74" y2="239.00" stroke="#f8f8f8" stroke-width="0.6"/>
<line x1="92.52" y1="159.30" x2="92.52" y2="239.00" stroke="#f8f8f8" stroke-width="0.6"/>
<line x1="102.08" y1="159.30" x2="102.08" y2="239.00" stroke="#f8f8f8" stroke-width="0.6"/>
<line x1="106.86" y1="159.30" x2="106.86" y2="239.00" stroke="#f8f8f8" stroke-width="0.6"/>
<line x1="111.64" y1="159.30" x2="111.64" y2="239.00" stroke="#f8f8f8" stroke-width="0.6"/>
<line x1="116.42" y1="159.30" x2="116.42" y2="239.00" stroke="#f8f8f8" stroke-width="0.6"/>
<line x1="125.98" y1="159.30" x2="125.98" y2="239.00" stroke="#f8f8f8" stroke-width="0.6"/>
<line x1="130.76" y1="159.30" x2="130.76" y2="239.00" stroke="#f8f8f8" stroke-width="0.6"/>
<line x1="135.54" y1="159.30" x2="135.54" y2="239.00" stroke="#f8f8f8" stroke-width="0.6"/>
<line x1="140.32" y1="159.30" x2="140.32" y2="239.00" stroke="#f8f8f8" stroke-width="0.6"/>
<line x1="149.88" y1="159.30" x2="149.88" y2="239.00" stroke="#f8f8f8" stroke-width="0.6"/>
<line x1="154.66" y1="159.30" x2="154.66" y2="239.00" stroke="#f8f8f8" stroke-width="0.6"/>
<line x1="159.44" y1="159.30" x2="159.44" y2="239.00" stroke="#f8f8f8" stroke-width="0.6"/>
<line x1="164.22" y1="159.30" x2="164.22" y2="239.00" stroke="#f8f8f8" stroke-width="0.6"/>
<line x1="173.78" y1="159.30" x2="173.78" y2="239.00" stroke="#f8f8f8" stroke-width="0.6"/>
<line x1="178.56" y1="159.30" x2="178.56" y2="239.00" stroke="#f8f8f8" stroke-width="0.6"/>
<line x1="183.34" y1="159.30" x2="183.34" y2="239.00" stroke="#f8f8f8" stroke-width="0.6"/>
<line x1="188.12" y1="159.30" x2="188.12" y2="239.00" stroke="#f8f8f8" stroke-width="0.6"/>
<line x1="197.68" y1="159.30" x2="197.68" y2="239.00" stroke="#f8f8f8" stroke-width="0.6"/>
<line x1="202.46" y1="159.30" x2="202.46" y2="239.00" stroke="#f8f8f8" stroke-width="0.6"/>
<line x1="207.24" y1="159.30" x2="207.24" y2="239.00" stroke="#f8f8f8" stroke-width="0.6"/>
<line x1="212.02" y1="159.30" x2="212.02" y2="239.00" stroke="#f8f8f8" stroke-width="0.6"/>
<line x1="221.58" y1="159.30" x2="221.58" y2="239.00" stroke="#f8f8f8" stroke-width="0.6"/>
<line x1="226.36" y1="159.30" x2="226.36" y2="239.00" stroke="#f8f8f8" stroke-width="0.6"/>
<line x1="231.14" y1="159.30" x2="231.14" y2="239.00" stroke="#f8f8f8" stroke-width="0.6"/>
<line x1="235.92" y1="159.30" x2="235.92" y2="239.00" stroke="#f8f8f8" stroke-width="0.6"/>
<line x1="245.48" y1="159.30" x2="245.48" y2="239.00" stroke="#f8f8f8" stroke-width="0.6"/>
<line x1="250.26" y1="159.30" x2="250.26" y2="239.00" stroke="#f8f8f8" stroke-width="0.6"/>
<line x1="255.04" y1="159.30" x2="255.04" y2="239.00" stroke="#f8f8f8" stroke-width="0.6"/>
<line x1="259.82" y1="159.30" x2="259.82" y2="239.00" stroke="#f8f8f8" stroke-width="0.6"/>
<line x1="25.60" y1="164.61" x2="264.60" y2="164.61" stroke="#f8f8f8" stroke-width="0.6"/>
<line x1="25.60" y1="169.93" x2="264.60" y2="169.93" stroke="#f8f8f8" stroke-width="0.6"/>
<line x1="25.60" y1="175.24" x2="264.60" y2="175.24" stroke="#f8f8f8" stroke-width="0.6"/>
<line x1="25.60" y1="180.55" x2="264.60" y2="180.55" stroke="#f8f8f8" stroke-width="0.6"/>
<line x1="25.60" y1="191.18" x2="264.60" y2="191.18" stroke="#f8f8f8" stroke-width="0.6"/>
<line x1="25.60" y1="196.49" x2="264.60" y2="196.49" stroke="#f8f8f8" stroke-width="0.6"/>
<line x1="25.60" y1="201.81" x2="264.60" y2="201.81" stroke="#f8f8f8" stroke-width="0.6"/>
<line x1="25.60" y1="207.12" x2="264.60" y2="207.12" stroke="#f8f8f8" stroke-width="0.6"/>
<line x1="25.60" y1="217.75" x2="264.60" y2="217.75" stroke="#f8f8f8" stroke-width="0.6"/>
<line x1="25.60" y1="223.06" x2="264.60" y2="223.06" stroke="#f8f8f8" stroke-width="0.6"/>
<line x1="25.60" y1="228.37" x2="264.60" y2="228.37" stroke="#f8f8f8" stroke-width="0.6"/>
<line x1="25.60" y1="233.69" x2="264.60" y2="233.69" stroke="#f8f8f8" stroke-width="0.6"/>
<line x1="25.60" y1="159.30" x2="25.60" y2="239.00" stroke="#ededed" stroke-width="0.7"/>
<line x1="49.50" y1="159.30" x2="49.50" y2="239.00" stroke="#ededed" stroke-width="0.7"/>
<line x1="73.40" y1="159.30" x2="73.40" y2="239.00" stroke="#ededed" stroke-width="0.7"/>
<line x1="97.30" y1="159.30" x2="97.30" y2="239.00" stroke="#ededed" stroke-width="0.7"/>
<line x1="121.20" y1="159.30" x2="121.20" y2="239.00" stroke="#ededed" stroke-width="0.7"/>
<line x1="145.10" y1="159.30" x2="145.10" y2="239.00" stroke="#ededed" stroke-width="0.7"/>
<line x1="169.00" y1="159.30" x2="169.00" y2="239.00" stroke="#ededed" stroke-width="0.7"/>
<line x1="192.90" y1="159.30" x2="192.90" y2="239.00" stroke="#ededed" stroke-width="0.7"/>
<line x1="216.80" y1="159.30" x2="216.80" y2="239.00" stroke="#ededed" stroke-width="0.7"/>
<line x1="240.70" y1="159.30" x2="240.70" y2="239.00" stroke="#ededed" stroke-width="0.7"/>
<line x1="264.60" y1="159.30" x2="264.60" y2="239.00" stroke="#ededed" stroke-width="0.7"/>
<line x1="25.60" y1="159.30" x2="264.60" y2="159.30" stroke="#ededed" stroke-width="0.7"/>
<line x1="25.60" y1="185.87" x2="264.60" y2="185.87" stroke="#ededed" stroke-width="0.7"/>
<line x1="25.60" y1="212.43" x2="264.60" y2="212.43" stroke="#ededed" stroke-width="0.7"/>
<line x1="25.60" y1="239.00" x2="264.60" y2="239.00" stroke="#ededed" stroke-width="0.7"/>
<path d="M25.70 213.60 L25.95 213.58 L26.20 213.53 L26.45 213.45 L26.70 213.38 L26.95 213.32 L27.20 213.30 L27.45 213.08 L27.70 212.44 L27.96 211.38 L28.21 209.93 L28.46 208.11 L28.71 205.95 L28.97 203.50 L29.22 200.80 L29.47 197.90 L29.72 194.86 L29.97 191.73 L30.23 188.57 L30.48 185.44 L30.73 182.40 L30.98 179.50 L31.23 176.80 L31.49 174.35 L31.74 172.19 L31.99 170.37 L32.24 168.92 L32.50 167.86 L32.75 167.22 L33.00 167.00 L33.25 167.33 L33.50 168.30 L33.75 169.89 L34.00 172.08 L34.25 174.82 L34.50 178.04 L34.75 181.70 L35.00 185.71 L35.25 189.98 L35.50 194.45 L35.75 199.00 L36.00 203.55 L36.25 208.02 L36.50 212.29 L36.75 216.30 L37.00 219.96 L37.25 223.18 L37.50 225.92 L37.75 228.11 L38.00 229.70 L38.25 230.67 L38.50 231.00 L38.75 230.75 L39.00 230.02 L39.25 228.83 L39.50 227.21 L39.75 225.21 L40.00 222.89 L40.25 220.33 L40.50 217.60 L40.75 214.78 L41.00 211.96 L41.25 209.23 L41.50 206.67 L41.75 204.35 L42.00 202.35 L42.25 200.73 L42.50 199.54 L42.75 198.81 L43.00 198.56 L43.26 198.86 L43.51 199.75 L43.77 201.19 L44.03 203.14 L44.28 205.51 L44.54 208.21 L44.80 211.15 L45.05 214.20 L45.31 217.25 L45.57 220.18 L45.83 222.89 L46.08 225.26 L46.34 227.20 L46.60 228.65 L46.85 229.54 L47.11 229.84 L47.37 229.54 L47.62 228.67 L47.88 227.25 L48.14 225.34 L48.39 223.02 L48.65 220.37 L48.91 217.49 L49.16 214.49 L49.42 211.50 L49.68 208.62 L49.94 205.97 L50.19 203.64 L50.45 201.73 L50.71 200.32 L50.96 199.44 L51.22 199.15 L51.48 199.43 L51.73 200.29 L51.99 201.67 L52.25 203.53 L52.50 205.80 L52.76 208.39 L53.02 211.19 L53.28 214.11 L53.53 217.03 L53.79 219.84 L54.05 222.43 L54.30 224.70 L54.56 226.56 L54.82 227.94 L55.07 228.79 L55.33 229.08 L55.59 228.80 L55.84 227.97 L56.10 226.63 L56.36 224.81 L56.61 222.61 L56.87 220.09 L57.13 217.35 L57.39 214.51 L57.64 211.67 L57.90 208.94 L58.16 206.42 L58.41 204.21 L58.67 202.40 L58.93 201.05 L59.18 200.23 L59.44 199.95 L59.70 200.22 L59.95 201.02 L60.21 202.33 L60.47 204.08 L60.72 206.22 L60.98 208.66 L61.24 211.31 L61.50 214.07 L61.75 216.82 L62.01 219.47 L62.27 221.91 L62.52 224.05 L62.78 225.81 L63.04 227.11 L63.29 227.91 L63.55 228.19 L63.81 227.92 L64.06 227.14 L64.32 225.86 L64.58 224.14 L64.83 222.05 L65.09 219.66 L65.35 217.08 L65.60 214.38 L65.86 211.69 L66.12 209.10 L66.38 206.71 L66.63 204.62 L66.89 202.91 L67.15 201.63 L67.40 200.84 L67.66 200.58 L67.92 200.84 L68.17 201.61 L68.43 202.86 L68.69 204.54 L68.94 206.60 L69.20 208.94 L69.46 211.47 L69.72 214.12 L69.97 216.76 L70.23 219.30 L70.49 221.64 L70.74 223.69 L71.00 225.37 L71.26 226.62 L71.51 227.39 L71.77 227.65 L72.03 227.39 L72.28 226.62 L72.54 225.37 L72.80 223.68 L73.05 221.63 L73.31 219.28 L73.57 216.74 L73.83 214.09 L74.08 211.45 L74.34 208.90 L74.60 206.56 L74.85 204.51 L75.11 202.82 L75.37 201.57 L75.62 200.79 L75.88 200.53 L76.14 200.79 L76.39 201.54 L76.65 202.75 L76.91 204.39 L77.16 206.39 L77.42 208.66 L77.68 211.13 L77.94 213.70 L78.19 216.27 L78.45 218.74 L78.71 221.02 L78.96 223.01 L79.22 224.65 L79.48 225.87 L79.73 226.62 L79.99 226.87 L80.25 226.63 L80.50 225.91 L80.76 224.74 L81.02 223.17 L81.27 221.25 L81.53 219.07 L81.79 216.70 L82.05 214.24 L82.30 211.77 L82.56 209.40 L82.82 207.22 L83.07 205.30 L83.33 203.73 L83.59 202.56 L83.84 201.84 L84.10 201.60 L84.36 201.84 L84.61 202.53 L84.87 203.66 L85.13 205.17 L85.38 207.02 L85.64 209.12 L85.90 211.41 L86.16 213.79 L86.41 216.16 L86.67 218.45 L86.93 220.56 L87.18 222.40 L87.44 223.92 L87.70 225.04 L87.95 225.74 L88.21 225.97 L88.47 225.74 L88.72 225.05 L88.98 223.94 L89.24 222.44 L89.49 220.61 L89.75 218.52 L90.01 216.26 L90.27 213.90 L90.52 211.55 L90.78 209.28 L91.04 207.20 L91.29 205.37 L91.55 203.87 L91.81 202.75 L92.06 202.07 L92.32 201.83 L92.58 202.05 L92.83 202.70 L93.09 203.76 L93.35 205.18 L93.60 206.91 L93.86 208.89 L94.12 211.03 L94.38 213.26 L94.63 215.49 L94.89 217.64 L95.15 219.62 L95.40 221.35 L95.66 222.77 L95.92 223.83 L96.17 224.48 L96.43 224.70 L96.69 224.49 L96.94 223.89 L97.20 222.91 L97.46 221.59 L97.71 219.99 L97.97 218.16 L98.23 216.17 L98.49 214.11 L98.74 212.04 L99.00 210.06 L99.26 208.22 L99.51 206.62 L99.77 205.30 L100.03 204.32 L100.28 203.72 L100.54 203.52 L100.80 203.71 L101.05 204.26 L101.31 205.16 L101.57 206.36 L101.82 207.83 L102.08 209.51 L102.34 211.34 L102.60 213.23 L102.85 215.13 L103.11 216.95 L103.37 218.63 L103.62 220.10 L103.88 221.31 L104.14 222.20 L104.39 222.76 L104.65 222.94 L104.91 222.77 L105.16 222.25 L105.42 221.41 L105.68 220.28 L105.93 218.90 L106.19 217.33 L106.45 215.63 L106.71 213.85 L106.96 212.08 L107.22 210.37 L107.48 208.80 L107.73 207.43 L107.99 206.30 L108.25 205.46 L108.50 204.94 L108.76 204.76 L109.02 204.93 L109.27 205.41 L109.53 206.19 L109.79 207.25 L110.04 208.53 L110.30 210.00 L110.56 211.59 L110.81 213.25 L111.07 214.90 L111.33 216.49 L111.59 217.96 L111.84 219.25 L112.10 220.30 L112.36 221.09 L112.61 221.57 L112.87 221.73 L113.13 221.57 L113.38 221.11 L113.64 220.35 L113.90 219.33 L114.15 218.09 L114.41 216.67 L114.67 215.13 L114.93 213.54 L115.18 211.94 L115.44 210.40 L115.70 208.98 L115.95 207.74 L116.21 206.72 L116.47 205.96 L116.72 205.50 L116.98 205.34 L117.24 205.49 L117.49 205.95 L117.75 206.69 L118.01 207.68 L118.26 208.89 L118.52 210.28 L118.78 211.78 L119.04 213.34 L119.29 214.90 L119.55 216.40 L119.81 217.78 L120.06 218.99 L120.32 219.98 L120.58 220.72 L120.83 221.18 L121.09 221.33 L121.35 221.18 L121.60 220.71 L121.86 219.96 L122.12 218.96 L122.37 217.73 L122.63 216.32 L122.89 214.80 L123.15 213.22 L123.40 211.63 L123.66 210.11 L123.92 208.71 L124.17 207.48 L124.43 206.47 L124.69 205.72 L124.94 205.25 L125.20 205.10 L125.46 205.25 L125.71 205.70 L125.97 206.43 L126.23 207.42 L126.48 208.62 L126.74 209.98 L127.00 211.47 L127.25 213.01 L127.51 214.56 L127.77 216.04 L128.03 217.41 L128.28 218.61 L128.54 219.59 L128.80 220.32 L129.05 220.77 L129.31 220.93 L129.57 220.78 L129.82 220.34 L130.08 219.62 L130.34 218.66 L130.59 217.48 L130.85 216.14 L131.11 214.69 L131.37 213.18 L131.62 211.67 L131.88 210.21 L132.14 208.87 L132.39 207.70 L132.65 206.73 L132.91 206.02 L133.16 205.58 L133.42 205.43 L133.68 205.57 L133.93 205.99 L134.19 206.68 L134.45 207.60 L134.70 208.72 L134.96 210.01 L135.22 211.40 L135.48 212.85 L135.73 214.29 L135.99 215.68 L136.25 216.97 L136.50 218.09 L136.76 219.01 L137.02 219.70 L137.27 220.12 L137.53 220.26 L137.79 220.12 L138.04 219.71 L138.30 219.04 L138.56 218.13 L138.81 217.03 L139.07 215.77 L139.33 214.40 L139.59 212.98 L139.84 211.56 L140.10 210.20 L140.36 208.94 L140.61 207.84 L140.87 206.93 L141.13 206.26 L141.38 205.84 L141.64 205.70 L141.90 205.84 L142.15 206.23 L142.41 206.87 L142.67 207.73 L142.92 208.78 L143.18 209.98 L143.44 211.28 L143.70 212.63 L143.95 213.98 L144.21 215.28 L144.47 216.47 L144.72 217.52 L144.98 218.39 L145.24 219.03 L145.49 219.42 L145.75 219.55 L146.01 219.42 L146.26 219.04 L146.52 218.42 L146.78 217.59 L147.03 216.57 L147.29 215.41 L147.55 214.15 L147.81 212.84 L148.06 211.53 L148.32 210.27 L148.58 209.11 L148.83 208.10 L149.09 207.26 L149.35 206.64 L149.60 206.26 L149.86 206.13 L150.12 206.25 L150.37 206.61 L150.63 207.18 L150.89 207.96 L151.14 208.90 L151.40 209.98 L151.66 211.15 L151.92 212.37 L152.17 213.59 L152.43 214.76 L152.69 215.83 L152.94 216.78 L153.20 217.55 L153.46 218.13 L153.71 218.49 L153.97 218.61 L154.23 218.49 L154.48 218.16 L154.74 217.62 L155.00 216.89 L155.25 216.00 L155.51 214.98 L155.77 213.88 L156.03 212.74 L156.28 211.59 L156.54 210.49 L156.80 209.48 L157.05 208.59 L157.31 207.86 L157.57 207.31 L157.82 206.98 L158.08 206.87 L158.34 206.97 L158.59 207.28 L158.85 207.78 L159.11 208.45 L159.36 209.27 L159.62 210.20 L159.88 211.21 L160.13 212.26 L160.39 213.32 L160.65 214.33 L160.91 215.26 L161.16 216.08 L161.42 216.75 L161.68 217.25 L161.93 217.55 L162.19 217.66 L162.45 217.56 L162.70 217.26 L162.96 216.79 L163.22 216.14 L163.47 215.36 L163.73 214.46 L163.99 213.49 L164.25 212.48 L164.50 211.47 L164.76 210.50 L165.02 209.60 L165.27 208.82 L165.53 208.18 L165.79 207.70 L166.04 207.40 L166.30 207.30 L166.56 207.39 L166.81 207.67 L167.07 208.11 L167.33 208.71 L167.58 209.43 L167.84 210.26 L168.10 211.16 L168.36 212.09 L168.61 213.03 L168.87 213.93 L169.13 214.76 L169.38 215.48 L169.64 216.08 L169.90 216.52 L170.15 216.79 L170.41 216.88 L170.67 216.80 L170.92 216.54 L171.18 216.12 L171.44 215.55 L171.69 214.87 L171.95 214.08 L172.21 213.23 L172.47 212.34 L172.72 211.46 L172.98 210.60 L173.24 209.82 L173.49 209.13 L173.75 208.56 L174.01 208.14 L174.26 207.89 L174.52 207.80 L174.78 207.88 L175.03 208.12 L175.29 208.51 L175.55 209.04 L175.80 209.68 L176.06 210.42 L176.32 211.21 L176.58 212.04 L176.83 212.87 L177.09 213.66 L177.35 214.40 L177.60 215.04 L177.86 215.57 L178.12 215.96 L178.37 216.20 L178.63 216.28 L178.89 216.20 L179.14 215.97 L179.40 215.60 L179.66 215.10 L179.91 214.48 L180.17 213.79 L180.43 213.03 L180.69 212.24 L180.94 211.45 L181.20 210.69 L181.46 209.99 L181.71 209.38 L181.97 208.88 L182.23 208.51 L182.48 208.28 L182.74 208.20 L183.00 208.27 L183.25 208.50 L183.51 208.86 L183.77 209.36 L184.02 209.95 L184.28 210.64 L184.54 211.38 L184.80 212.15 L185.05 212.92 L185.31 213.66 L185.57 214.35 L185.82 214.95 L186.08 215.44 L186.34 215.80 L186.59 216.03 L186.85 216.10 L187.11 216.03 L187.36 215.80 L187.62 215.44 L187.88 214.95 L188.13 214.36 L188.39 213.68 L188.65 212.94 L188.91 212.18 L189.16 211.41 L189.42 210.68 L189.68 210.00 L189.93 209.40 L190.19 208.91 L190.45 208.55 L190.70 208.33 L190.96 208.25 L191.22 208.33 L191.47 208.55 L191.73 208.91 L191.99 209.39 L192.24 209.98 L192.50 210.65 L192.76 211.38 L193.02 212.13 L193.27 212.89 L193.53 213.62 L193.79 214.29 L194.04 214.88 L194.30 215.36 L194.56 215.72 L194.81 215.94 L195.07 216.01 L195.33 215.94 L195.58 215.72 L195.84 215.36 L196.10 214.89 L196.35 214.30 L196.61 213.64 L196.87 212.91 L197.13 212.16 L197.38 211.41 L197.64 210.69 L197.90 210.02 L198.15 209.44 L198.41 208.96 L198.67 208.60 L198.92 208.38 L199.18 208.31 L199.44 208.38 L199.69 208.60 L199.95 208.95 L200.21 209.42 L200.46 210.00 L200.72 210.66 L200.98 211.37 L201.24 212.12 L201.49 212.86 L201.75 213.57 L202.01 214.23 L202.26 214.81 L202.52 215.28 L202.78 215.63 L203.03 215.85 L203.29 215.92 L203.55 215.85 L203.80 215.64 L204.06 215.29 L204.32 214.82 L204.57 214.24 L204.83 213.59 L205.09 212.88 L205.35 212.14 L205.60 211.41 L205.86 210.70 L206.12 210.04 L206.37 209.47 L206.63 209.00 L206.89 208.65 L207.14 208.44 L207.40 208.36 L207.66 208.44 L207.91 208.65 L208.17 208.99 L208.43 209.46 L208.68 210.02 L208.94 210.67 L209.20 211.37 L209.46 212.10 L209.71 212.83 L209.97 213.53 L210.23 214.17 L210.48 214.74 L210.74 215.20 L211.00 215.55 L211.25 215.76 L211.51 215.83 L211.77 215.76 L212.02 215.55 L212.28 215.21 L212.54 214.75 L212.79 214.19 L213.05 213.54 L213.31 212.85 L213.57 212.13 L213.82 211.40 L214.08 210.71 L214.34 210.07 L214.59 209.51 L214.85 209.05 L215.11 208.70 L215.36 208.49 L215.62 208.42 L215.88 208.49 L216.13 208.70 L216.39 209.04 L216.65 209.49 L216.90 210.05 L217.16 210.68 L217.42 211.37 L217.68 212.08 L217.93 212.80 L218.19 213.48 L218.45 214.12 L218.70 214.67 L218.96 215.13 L219.22 215.46 L219.47 215.67 L219.73 215.74 L219.99 215.67 L220.24 215.47 L220.50 215.13 L220.76 214.68 L221.01 214.13 L221.27 213.50 L221.53 212.82 L221.79 212.11 L222.04 211.40 L222.30 210.72 L222.56 210.09 L222.81 209.54 L223.07 209.09 L223.33 208.75 L223.58 208.55 L223.84 208.48 L224.10 208.54 L224.35 208.74 L224.61 209.06 L224.87 209.50 L225.12 210.03 L225.38 210.63 L225.64 211.29 L225.90 211.97 L226.15 212.65 L226.41 213.31 L226.67 213.91 L226.92 214.44 L227.18 214.87 L227.44 215.20 L227.69 215.39 L227.95 215.46 L228.21 215.40 L228.46 215.22 L228.72 214.92 L228.98 214.51 L229.23 214.02 L229.49 213.46 L229.75 212.86 L230.01 212.22 L230.26 211.59 L230.52 210.99 L230.78 210.43 L231.03 209.94 L231.29 209.53 L231.55 209.23 L231.80 209.05 L232.06 208.99 L232.32 209.04 L232.57 209.21 L232.83 209.48 L233.09 209.84 L233.34 210.29 L233.60 210.79 L233.86 211.34 L234.12 211.91 L234.37 212.49 L234.63 213.03 L234.89 213.54 L235.14 213.98 L235.40 214.35 L235.66 214.62 L235.91 214.79 L236.17 214.84 L236.43 214.79 L236.68 214.64 L236.94 214.40 L237.20 214.07 L237.45 213.67 L237.71 213.21 L237.97 212.71 L238.23 212.20 L238.48 211.68 L238.74 211.19 L239.00 210.73 L239.25 210.33 L239.51 210.00 L239.77 209.75 L240.02 209.60 L240.28 209.55 L240.54 209.60 L240.79 209.74 L241.05 209.97 L241.31 210.28 L241.56 210.66 L241.82 211.09 L242.08 211.55 L242.34 212.04 L242.59 212.52 L242.85 212.99 L243.11 213.42 L243.36 213.80 L243.62 214.11 L243.88 214.34 L244.13 214.48 L244.39 214.53 L244.65 214.48 L244.90 214.34 L245.16 214.11 L245.42 213.80 L245.67 213.42 L245.93 213.00 L246.19 212.53 L246.45 212.05 L246.70 211.56 L246.96 211.10 L247.22 210.67 L247.47 210.29 L247.73 209.99 L247.99 209.76 L248.24 209.62 L248.50 209.57 L248.76 209.62 L249.01 209.76 L249.27 209.98 L249.53 210.29 L249.78 210.66 L250.04 211.08 L250.30 211.54 L250.56 212.02 L250.81 212.50 L251.07 212.96 L251.33 213.39 L251.58 213.76 L251.84 214.06 L252.10 214.29 L252.35 214.43 L252.61 214.48 L252.87 214.43 L253.12 214.29 L253.38 214.06 L253.64 213.76 L253.89 213.39 L254.15 212.97 L254.41 212.51 L254.67 212.03 L254.92 211.55 L255.18 211.09 L255.44 210.67 L255.69 210.30 L255.95 210.00 L256.21 209.77 L256.46 209.63 L256.72 209.58 L256.98 209.63 L257.23 209.77 L257.49 209.99 L257.75 210.29 L258.00 210.66 L258.26 211.08 L258.52 211.53 L258.78 212.00 L259.03 212.48 L259.29 212.93 L259.55 213.35 L259.80 213.72 L260.06 214.02 L260.32 214.24 L260.57 214.38 L260.83 214.43 L261.08 214.40 L261.33 214.32 L261.58 214.19 L261.84 214.02 L262.09 213.82 L262.34 213.59 L262.59 213.34 L262.84 213.09 L263.09 212.84 L263.34 212.61 L263.59 212.40 L263.85 212.23 L264.10 212.11 L264.35 212.03 L264.60 212.00" stroke="#0072BD" stroke-width="1.20" fill="none" stroke-linejoin="round"/>
<path d="M25.70 213.60 L25.95 213.58 L26.20 213.53 L26.45 213.45 L26.70 213.38 L26.95 213.32 L27.20 213.30 L27.46 213.04 L27.72 212.26 L27.98 210.97 L28.24 209.21 L28.50 207.01 L28.75 204.41 L29.01 201.47 L29.27 198.25 L29.53 194.80 L29.79 191.21 L30.05 187.55 L30.31 183.89 L30.57 180.30 L30.83 176.85 L31.09 173.63 L31.35 170.69 L31.60 168.09 L31.86 165.89 L32.12 164.13 L32.38 162.84 L32.64 162.06 L32.90 161.80 L33.15 162.19 L33.40 163.35 L33.66 165.26 L33.91 167.87 L34.16 171.13 L34.41 174.96 L34.67 179.28 L34.92 183.98 L35.17 188.97 L35.42 194.14 L35.68 199.36 L35.93 204.53 L36.18 209.52 L36.43 214.22 L36.69 218.54 L36.94 222.37 L37.19 225.63 L37.44 228.24 L37.70 230.15 L37.95 231.31 L38.20 231.70 L38.45 231.38 L38.70 230.42 L38.95 228.87 L39.20 226.79 L39.45 224.25 L39.70 221.35 L39.95 218.20 L40.20 214.93 L40.45 211.66 L40.70 208.52 L40.95 205.62 L41.20 203.08 L41.45 200.99 L41.70 199.44 L41.95 198.49 L42.20 198.17 L42.46 198.51 L42.72 199.52 L42.98 201.16 L43.25 203.36 L43.51 206.01 L43.77 209.01 L44.03 212.22 L44.29 215.49 L44.55 218.70 L44.82 221.70 L45.08 224.35 L45.34 226.55 L45.60 228.19 L45.86 229.20 L46.12 229.54 L46.39 229.21 L46.65 228.23 L46.91 226.63 L47.17 224.50 L47.43 221.92 L47.70 219.01 L47.96 215.90 L48.22 212.71 L48.48 209.59 L48.74 206.68 L49.00 204.11 L49.27 201.97 L49.53 200.38 L49.79 199.40 L50.05 199.06 L50.31 199.39 L50.57 200.34 L50.84 201.88 L51.10 203.94 L51.36 206.43 L51.62 209.25 L51.88 212.26 L52.14 215.34 L52.41 218.35 L52.67 221.17 L52.93 223.66 L53.19 225.72 L53.45 227.26 L53.71 228.22 L53.98 228.54 L54.24 228.23 L54.50 227.30 L54.76 225.81 L55.02 223.82 L55.28 221.40 L55.55 218.68 L55.81 215.76 L56.07 212.78 L56.33 209.86 L56.59 207.13 L56.85 204.72 L57.12 202.72 L57.38 201.23 L57.64 200.31 L57.90 200.00 L58.16 200.29 L58.42 201.16 L58.69 202.57 L58.95 204.45 L59.21 206.73 L59.47 209.30 L59.73 212.06 L59.99 214.87 L60.26 217.62 L60.52 220.20 L60.78 222.47 L61.04 224.36 L61.30 225.76 L61.56 226.63 L61.83 226.93 L62.09 226.66 L62.35 225.85 L62.61 224.55 L62.87 222.81 L63.13 220.71 L63.40 218.34 L63.66 215.79 L63.92 213.20 L64.18 210.65 L64.44 208.28 L64.70 206.18 L64.97 204.44 L65.23 203.14 L65.49 202.34 L65.75 202.06 L66.01 202.31 L66.27 203.05 L66.53 204.24 L66.80 205.84 L67.06 207.76 L67.32 209.94 L67.58 212.27 L67.84 214.65 L68.11 216.98 L68.37 219.16 L68.63 221.09 L68.89 222.68 L69.15 223.87 L69.41 224.61 L69.68 224.86 L69.94 224.63 L70.20 223.95 L70.46 222.84 L70.72 221.37 L70.98 219.58 L71.25 217.57 L71.51 215.41 L71.77 213.20 L72.03 211.04 L72.29 209.03 L72.55 207.24 L72.81 205.77 L73.08 204.66 L73.34 203.98 L73.60 203.75 L73.86 203.96 L74.12 204.59 L74.38 205.60 L74.65 206.96 L74.91 208.60 L75.17 210.45 L75.43 212.43 L75.69 214.46 L75.96 216.44 L76.22 218.29 L76.48 219.93 L76.74 221.28 L77.00 222.30 L77.26 222.92 L77.53 223.13 L77.79 222.94 L78.05 222.36 L78.31 221.42 L78.57 220.16 L78.83 218.64 L79.09 216.92 L79.36 215.08 L79.62 213.20 L79.88 211.36 L80.14 209.64 L80.40 208.12 L80.67 206.86 L80.93 205.92 L81.19 205.34 L81.45 205.15 L81.71 205.32 L81.97 205.83 L82.24 206.66 L82.50 207.77 L82.76 209.11 L83.02 210.62 L83.28 212.24 L83.54 213.90 L83.81 215.52 L84.07 217.04 L84.33 218.38 L84.59 219.48 L84.85 220.31 L85.11 220.83 L85.38 221.00 L85.64 220.85 L85.90 220.42 L86.16 219.73 L86.42 218.80 L86.68 217.67 L86.94 216.40 L87.21 215.04 L87.47 213.65 L87.73 212.29 L87.99 211.02 L88.25 209.90 L88.52 208.97 L88.78 208.27 L89.04 207.84 L89.30 207.70 L89.56 207.82 L89.82 208.19 L90.09 208.78 L90.35 209.58 L90.61 210.54 L90.87 211.63 L91.13 212.79 L91.39 213.99 L91.66 215.15 L91.92 216.24 L92.18 217.20 L92.44 218.00 L92.70 218.59 L92.96 218.96 L93.23 219.08 L93.49 218.97 L93.75 218.63 L94.01 218.08 L94.27 217.34 L94.53 216.45 L94.79 215.45 L95.06 214.37 L95.32 213.27 L95.58 212.19 L95.84 211.19 L96.10 210.30 L96.37 209.56 L96.63 209.01 L96.89 208.67 L97.15 208.56 L97.41 208.67 L97.67 209.00 L97.94 209.53 L98.20 210.25 L98.46 211.11 L98.72 212.09 L98.98 213.13 L99.24 214.20 L99.50 215.25 L99.77 216.22 L100.03 217.09 L100.29 217.80 L100.55 218.33 L100.81 218.66 L101.08 218.78 L101.34 218.66 L101.60 218.31 L101.86 217.74 L102.12 216.99 L102.38 216.08 L102.65 215.04 L102.91 213.94 L103.17 212.81 L103.43 211.71 L103.69 210.68 L103.95 209.76 L104.22 209.01 L104.48 208.44 L104.74 208.09 L105.00 207.98 L105.26 208.09 L105.52 208.45 L105.79 209.02 L106.05 209.79 L106.31 210.71 L106.57 211.76 L106.83 212.88 L107.09 214.02 L107.35 215.14 L107.62 216.19 L107.88 217.12 L108.14 217.88 L108.40 218.46 L108.66 218.81 L108.93 218.93 L109.19 218.81 L109.45 218.45 L109.71 217.87 L109.97 217.10 L110.23 216.17 L110.50 215.11 L110.76 213.98 L111.02 212.83 L111.28 211.70 L111.54 210.64 L111.80 209.71 L112.06 208.94 L112.33 208.36 L112.59 208.00 L112.85 207.88 L113.11 208.00 L113.37 208.33 L113.64 208.88 L113.90 209.61 L114.16 210.49 L114.42 211.48 L114.68 212.55 L114.94 213.64 L115.21 214.70 L115.47 215.69 L115.73 216.58 L115.99 217.30 L116.25 217.85 L116.51 218.18 L116.78 218.30 L117.04 218.19 L117.30 217.89 L117.56 217.39 L117.82 216.73 L118.08 215.92 L118.35 215.01 L118.61 214.04 L118.87 213.05 L119.13 212.07 L119.39 211.17 L119.65 210.36 L119.92 209.70 L120.18 209.20 L120.44 208.89 L120.70 208.79 L120.96 208.89 L121.22 209.17 L121.48 209.64 L121.75 210.26 L122.01 211.01 L122.27 211.86 L122.53 212.77 L122.79 213.70 L123.06 214.60 L123.32 215.45 L123.58 216.20 L123.84 216.83 L124.10 217.29 L124.36 217.58 L124.63 217.68 L124.89 217.58 L125.15 217.29 L125.41 216.81 L125.67 216.18 L125.93 215.42 L126.20 214.56 L126.46 213.64 L126.72 212.69 L126.98 211.77 L127.24 210.91 L127.50 210.15 L127.77 209.52 L128.03 209.04 L128.29 208.75 L128.55 208.65 L128.81 208.75 L129.07 209.04 L129.34 209.50 L129.60 210.11 L129.86 210.86 L130.12 211.70 L130.38 212.60 L130.64 213.52 L130.91 214.42 L131.17 215.26 L131.43 216.01 L131.69 216.62 L131.95 217.08 L132.21 217.37 L132.48 217.46 L132.74 217.37 L133.00 217.08 L133.26 216.61 L133.52 215.98 L133.78 215.23 L134.05 214.37 L134.31 213.46 L134.57 212.52 L134.83 211.61 L135.09 210.76 L135.35 210.00 L135.62 209.38 L135.88 208.91 L136.14 208.62 L136.40 208.52 L136.66 208.62 L136.92 208.90 L137.19 209.35 L137.45 209.97 L137.71 210.70 L137.97 211.54 L138.23 212.43 L138.49 213.34 L138.75 214.24 L139.02 215.07 L139.28 215.81 L139.54 216.42 L139.80 216.87 L140.06 217.16 L140.33 217.25 L140.59 217.15 L140.85 216.87 L141.11 216.40 L141.37 215.78 L141.63 215.04 L141.90 214.19 L142.16 213.28 L142.42 212.36 L142.68 211.45 L142.94 210.60 L143.20 209.85 L143.47 209.23 L143.73 208.77 L143.99 208.48 L144.25 208.39 L144.51 208.48 L144.77 208.76 L145.04 209.21 L145.30 209.82 L145.56 210.55 L145.82 211.38 L146.08 212.26 L146.34 213.17 L146.61 214.05 L146.87 214.88 L147.13 215.61 L147.39 216.21 L147.65 216.67 L147.91 216.94 L148.18 217.04 L148.44 216.94 L148.70 216.66 L148.96 216.20 L149.22 215.59 L149.48 214.84 L149.75 214.00 L150.01 213.11 L150.27 212.19 L150.53 211.29 L150.79 210.45 L151.05 209.71 L151.32 209.09 L151.58 208.63 L151.84 208.35 L152.10 208.25 L152.36 208.35 L152.62 208.62 L152.89 209.07 L153.15 209.67 L153.41 210.40 L153.67 211.22 L153.93 212.09 L154.19 212.99 L154.46 213.87 L154.72 214.68 L154.98 215.41 L155.24 216.01 L155.50 216.46 L155.76 216.73 L156.03 216.83 L156.29 216.73 L156.55 216.45 L156.81 216.00 L157.07 215.39 L157.33 214.65 L157.59 213.82 L157.86 212.93 L158.12 212.02 L158.38 211.13 L158.64 210.30 L158.90 209.56 L159.17 208.95 L159.43 208.50 L159.69 208.22 L159.95 208.12 L160.21 208.21 L160.47 208.48 L160.74 208.91 L161.00 209.50 L161.26 210.20 L161.52 210.99 L161.78 211.84 L162.04 212.71 L162.31 213.56 L162.57 214.35 L162.83 215.05 L163.09 215.63 L163.35 216.07 L163.61 216.34 L163.88 216.43 L164.14 216.34 L164.40 216.08 L164.66 215.66 L164.92 215.09 L165.18 214.41 L165.44 213.64 L165.71 212.82 L165.97 211.97 L166.23 211.15 L166.49 210.38 L166.75 209.70 L167.02 209.13 L167.28 208.71 L167.54 208.45 L167.80 208.36 L168.06 208.45 L168.32 208.69 L168.59 209.08 L168.85 209.61 L169.11 210.24 L169.37 210.96 L169.63 211.73 L169.89 212.51 L170.16 213.28 L170.42 213.99 L170.68 214.63 L170.94 215.15 L171.20 215.55 L171.46 215.79 L171.73 215.87 L171.99 215.79 L172.25 215.56 L172.51 215.19 L172.77 214.68 L173.03 214.08 L173.30 213.39 L173.56 212.66 L173.82 211.91 L174.08 211.18 L174.34 210.49 L174.60 209.89 L174.86 209.38 L175.13 209.01 L175.39 208.78 L175.65 208.70 L175.91 208.77 L176.17 209.00 L176.44 209.36 L176.70 209.84 L176.96 210.43 L177.22 211.08 L177.48 211.79 L177.74 212.51 L178.01 213.22 L178.27 213.88 L178.53 214.46 L178.79 214.94 L179.05 215.31 L179.31 215.53 L179.57 215.60 L179.84 215.53 L180.10 215.31 L180.36 214.96 L180.62 214.48 L180.88 213.91 L181.15 213.26 L181.41 212.56 L181.67 211.85 L181.93 211.16 L182.19 210.51 L182.45 209.94 L182.72 209.46 L182.98 209.11 L183.24 208.89 L183.50 208.81 L183.76 208.89 L184.02 209.10 L184.28 209.45 L184.55 209.91 L184.81 210.47 L185.07 211.11 L185.33 211.79 L185.59 212.48 L185.86 213.16 L186.12 213.80 L186.38 214.36 L186.64 214.82 L186.90 215.17 L187.16 215.38 L187.43 215.46 L187.69 215.38 L187.95 215.17 L188.21 214.83 L188.47 214.38 L188.73 213.82 L189.00 213.20 L189.26 212.53 L189.52 211.85 L189.78 211.18 L190.04 210.56 L190.30 210.01 L190.57 209.55 L190.83 209.21 L191.09 209.00 L191.35 208.93 L191.61 209.00 L191.87 209.20 L192.14 209.54 L192.40 209.98 L192.66 210.52 L192.92 211.13 L193.18 211.78 L193.44 212.45 L193.71 213.10 L193.97 213.71 L194.23 214.25 L194.49 214.70 L194.75 215.03 L195.01 215.24 L195.28 215.31 L195.54 215.24 L195.80 215.04 L196.06 214.71 L196.32 214.27 L196.58 213.74 L196.84 213.14 L197.11 212.50 L197.37 211.85 L197.63 211.21 L197.89 210.61 L198.15 210.08 L198.42 209.64 L198.68 209.31 L198.94 209.11 L199.20 209.04 L199.46 209.11 L199.72 209.31 L199.98 209.63 L200.25 210.05 L200.51 210.57 L200.77 211.16 L201.03 211.78 L201.29 212.42 L201.56 213.05 L201.82 213.63 L202.08 214.15 L202.34 214.58 L202.60 214.90 L202.86 215.09 L203.13 215.16 L203.39 215.10 L203.65 214.91 L203.91 214.61 L204.17 214.20 L204.43 213.71 L204.69 213.16 L204.96 212.56 L205.22 211.96 L205.48 211.36 L205.74 210.81 L206.00 210.32 L206.27 209.91 L206.53 209.61 L206.79 209.42 L207.05 209.36 L207.31 209.41 L207.57 209.58 L207.84 209.84 L208.10 210.20 L208.36 210.62 L208.62 211.11 L208.88 211.63 L209.14 212.16 L209.41 212.67 L209.67 213.16 L209.93 213.59 L210.19 213.94 L210.45 214.21 L210.71 214.37 L210.98 214.42 L211.24 214.38 L211.50 214.24 L211.76 214.03 L212.02 213.73 L212.28 213.38 L212.55 212.98 L212.81 212.55 L213.07 212.12 L213.33 211.69 L213.59 211.29 L213.85 210.94 L214.11 210.65 L214.38 210.43 L214.64 210.29 L214.90 210.25 L215.16 210.28 L215.42 210.39 L215.69 210.57 L215.95 210.80 L216.21 211.08 L216.47 211.40 L216.73 211.74 L216.99 212.09 L217.26 212.44 L217.52 212.75 L217.78 213.04 L218.04 213.27 L218.30 213.45 L218.56 213.55 L218.82 213.59 L219.09 213.56 L219.35 213.46 L219.61 213.31 L219.87 213.10 L220.13 212.85 L220.40 212.57 L220.66 212.27 L220.92 211.96 L221.18 211.65 L221.44 211.37 L221.70 211.12 L221.97 210.91 L222.23 210.76 L222.49 210.66 L222.75 210.63 L223.01 210.66 L223.27 210.76 L223.53 210.91 L223.80 211.11 L224.06 211.35 L224.32 211.62 L224.58 211.92 L224.84 212.22 L225.11 212.51 L225.37 212.78 L225.63 213.03 L225.89 213.23 L226.15 213.38 L226.41 213.47 L226.68 213.50 L226.94 213.47 L227.20 213.38 L227.46 213.23 L227.72 213.04 L227.98 212.80 L228.25 212.53 L228.51 212.24 L228.77 211.95 L229.03 211.66 L229.29 211.39 L229.55 211.15 L229.81 210.96 L230.08 210.81 L230.34 210.72 L230.60 210.69 L230.86 210.72 L231.12 210.80 L231.38 210.95 L231.65 211.14 L231.91 211.37 L232.17 211.63 L232.43 211.91 L232.69 212.19 L232.96 212.47 L233.22 212.73 L233.48 212.96 L233.74 213.15 L234.00 213.30 L234.26 213.38 L234.53 213.41 L234.79 213.38 L235.05 213.30 L235.31 213.16 L235.57 212.97 L235.83 212.75 L236.09 212.49 L236.36 212.22 L236.62 211.94 L236.88 211.67 L237.14 211.41 L237.40 211.18 L237.67 211.00 L237.93 210.86 L238.19 210.77 L238.45 210.74 L238.71 210.77 L238.97 210.85 L239.24 210.99 L239.50 211.17 L239.76 211.39 L240.02 211.64 L240.28 211.90 L240.54 212.18 L240.81 212.44 L241.07 212.69 L241.33 212.91 L241.59 213.09 L241.85 213.23 L242.11 213.31 L242.38 213.34 L242.64 213.31 L242.90 213.23 L243.16 213.09 L243.42 212.91 L243.68 212.69 L243.95 212.45 L244.21 212.19 L244.47 211.92 L244.73 211.65 L244.99 211.41 L245.25 211.19 L245.52 211.01 L245.78 210.88 L246.04 210.79 L246.30 210.76 L246.56 210.79 L246.82 210.87 L247.09 211.01 L247.35 211.18 L247.61 211.40 L247.87 211.64 L248.13 211.90 L248.39 212.16 L248.66 212.42 L248.92 212.66 L249.18 212.87 L249.44 213.05 L249.70 213.18 L249.96 213.26 L250.22 213.29 L250.49 213.26 L250.75 213.18 L251.01 213.05 L251.27 212.87 L251.53 212.66 L251.79 212.42 L252.06 212.17 L252.32 211.90 L252.58 211.65 L252.84 211.41 L253.10 211.19 L253.37 211.02 L253.63 210.89 L253.89 210.81 L254.15 210.78 L254.41 210.81 L254.67 210.89 L254.94 211.01 L255.20 211.19 L255.46 211.40 L255.72 211.63 L255.98 211.88 L256.24 212.14 L256.51 212.39 L256.77 212.63 L257.03 212.83 L257.29 213.01 L257.55 213.14 L257.81 213.22 L258.08 213.24 L258.34 213.22 L258.60 213.14 L258.86 213.01 L259.12 212.84 L259.38 212.63 L259.65 212.40 L259.91 212.15 L260.17 211.89 L260.43 211.64 L260.69 211.41 L260.95 211.20 L261.22 211.03 L261.48 210.90 L261.74 210.82 L262.00 210.79 L262.26 210.82 L262.52 210.91 L262.78 211.04 L263.04 211.21 L263.30 211.40 L263.56 211.58 L263.82 211.75 L264.08 211.89 L264.34 211.97 L264.60 212.00" stroke="#D95319" stroke-width="1.20" fill="none" stroke-linejoin="round"/>
<path d="M25.70 213.00 L25.98 212.97 L26.25 212.90 L26.52 212.83 L26.80 212.80 L27.06 212.73 L27.31 212.51 L27.57 212.16 L27.83 211.68 L28.08 211.07 L28.34 210.36 L28.60 209.54 L28.85 208.64 L29.11 207.68 L29.37 206.67 L29.62 205.63 L29.88 204.57 L30.13 203.53 L30.39 202.52 L30.65 201.56 L30.90 200.66 L31.16 199.84 L31.42 199.13 L31.67 198.52 L31.93 198.04 L32.19 197.69 L32.44 197.47 L32.70 197.40 L32.95 197.51 L33.20 197.84 L33.45 198.37 L33.70 199.10 L33.95 200.01 L34.20 201.07 L34.45 202.26 L34.70 203.55 L34.95 204.91 L35.20 206.30 L35.45 207.69 L35.70 209.05 L35.95 210.34 L36.20 211.53 L36.45 212.59 L36.70 213.50 L36.95 214.23 L37.20 214.76 L37.45 215.09 L37.70 215.20 L37.95 215.15 L38.21 215.02 L38.46 214.79 L38.71 214.49 L38.96 214.11 L39.22 213.68 L39.47 213.21 L39.72 212.72 L39.98 212.21 L40.23 211.72 L40.48 211.25 L40.74 210.82 L40.99 210.44 L41.24 210.14 L41.49 209.91 L41.75 209.78 L42.00 209.73 L42.25 209.79 L42.50 209.96 L42.75 210.24 L43.00 210.62 L43.25 211.08 L43.50 211.61 L43.75 212.18 L44.00 212.77 L44.25 213.36 L44.50 213.93 L44.75 214.46 L45.00 214.92 L45.25 215.30 L45.50 215.58 L45.75 215.75 L46.00 215.81 L46.25 215.75 L46.50 215.58 L46.75 215.31 L47.00 214.94 L47.25 214.49 L47.50 213.97 L47.75 213.41 L48.00 212.83 L48.25 212.25 L48.50 211.69 L48.75 211.17 L49.00 210.72 L49.25 210.35 L49.50 210.08 L49.75 209.91 L50.00 209.85 L50.25 209.91 L50.50 210.07 L50.75 210.34 L51.00 210.71 L51.25 211.15 L51.50 211.65 L51.75 212.20 L52.00 212.77 L52.25 213.34 L52.50 213.89 L52.75 214.39 L53.00 214.83 L53.25 215.20 L53.50 215.47 L53.75 215.63 L54.00 215.69 L54.25 215.64 L54.50 215.47 L54.75 215.21 L55.00 214.85 L55.25 214.42 L55.50 213.92 L55.75 213.39 L56.00 212.83 L56.25 212.27 L56.50 211.74 L56.75 211.24 L57.00 210.81 L57.25 210.45 L57.50 210.19 L57.75 210.02 L58.00 209.97 L58.25 210.02 L58.50 210.18 L58.75 210.44 L59.00 210.79 L59.25 211.21 L59.50 211.70 L59.75 212.22 L60.00 212.76 L60.25 213.31 L60.50 213.83 L60.75 214.32 L61.00 214.74 L61.25 215.09 L61.50 215.35 L61.75 215.51 L62.00 215.56 L62.25 215.51 L62.50 215.35 L62.75 215.10 L63.00 214.76 L63.25 214.35 L63.50 213.88 L63.75 213.37 L64.00 212.84 L64.25 212.31 L64.50 211.80 L64.75 211.33 L65.00 210.92 L65.25 210.58 L65.50 210.33 L65.75 210.17 L66.00 210.12 L66.25 210.17 L66.50 210.32 L66.75 210.56 L67.00 210.89 L67.25 211.29 L67.50 211.75 L67.75 212.24 L68.00 212.76 L68.25 213.28 L68.50 213.77 L68.75 214.23 L69.00 214.63 L69.25 214.96 L69.50 215.20 L69.75 215.35 L70.00 215.40 L70.25 215.35 L70.50 215.21 L70.75 214.97 L71.00 214.65 L71.25 214.26 L71.50 213.82 L71.75 213.34 L72.00 212.84 L72.25 212.34 L72.50 211.86 L72.75 211.42 L73.00 211.03 L73.25 210.71 L73.50 210.47 L73.75 210.33 L74.00 210.28 L74.25 210.33 L74.50 210.47 L74.75 210.70 L75.00 211.01 L75.25 211.38 L75.50 211.81 L75.75 212.28 L76.00 212.76 L76.25 213.24 L76.50 213.71 L76.75 214.14 L77.00 214.51 L77.25 214.82 L77.50 215.05 L77.75 215.19 L78.00 215.24 L78.25 215.19 L78.50 215.06 L78.75 214.84 L79.00 214.54 L79.25 214.17 L79.50 213.76 L79.75 213.31 L80.00 212.84 L80.25 212.37 L80.50 211.92 L80.75 211.51 L81.00 211.14 L81.25 210.84 L81.50 210.62 L81.75 210.49 L82.00 210.44 L82.25 210.48 L82.50 210.62 L82.75 210.83 L83.00 211.12 L83.25 211.47 L83.50 211.87 L83.75 212.31 L84.00 212.76 L84.25 213.21 L84.50 213.65 L84.75 214.05 L85.00 214.40 L85.25 214.69 L85.50 214.90 L85.75 215.04 L86.00 215.08 L86.25 215.04 L86.50 214.91 L86.75 214.70 L87.00 214.42 L87.25 214.08 L87.50 213.70 L87.75 213.28 L88.00 212.84 L88.25 212.40 L88.50 211.98 L88.75 211.60 L89.00 211.26 L89.25 210.98 L89.50 210.77 L89.75 210.64 L90.00 210.60 L90.25 210.64 L90.50 210.76 L90.75 210.96 L91.00 211.22 L91.25 211.55 L91.50 211.92 L91.75 212.32 L92.00 212.73 L92.25 213.15 L92.50 213.55 L92.75 213.92 L93.00 214.24 L93.25 214.51 L93.50 214.70 L93.75 214.83 L94.00 214.87 L94.25 214.83 L94.50 214.71 L94.75 214.53 L95.00 214.28 L95.25 213.98 L95.50 213.63 L95.75 213.26 L96.00 212.87 L96.25 212.48 L96.50 212.10 L96.75 211.76 L97.00 211.45 L97.25 211.20 L97.50 211.02 L97.75 210.91 L98.00 210.87 L98.25 210.90 L98.50 211.01 L98.75 211.18 L99.00 211.41 L99.25 211.70 L99.50 212.02 L99.75 212.37 L100.00 212.73 L100.25 213.10 L100.50 213.45 L100.75 213.77 L101.00 214.05 L101.25 214.29 L101.50 214.46 L101.75 214.56 L102.00 214.60 L102.25 214.57 L102.50 214.47 L102.75 214.31 L103.00 214.09 L103.25 213.83 L103.50 213.53 L103.75 213.20 L104.00 212.87 L104.25 212.53 L104.50 212.20 L104.75 211.90 L105.00 211.64 L105.25 211.43 L105.50 211.27 L105.75 211.17 L106.00 211.13 L106.25 211.16 L106.50 211.26 L106.75 211.40 L107.00 211.60 L107.25 211.84 L107.50 212.12 L107.75 212.42 L108.00 212.73 L108.25 213.05 L108.50 213.35 L108.75 213.62 L109.00 213.86 L109.25 214.06 L109.50 214.21 L109.75 214.30 L110.00 214.33 L110.25 214.31 L110.50 214.22 L110.75 214.09 L111.00 213.90 L111.25 213.68 L111.50 213.43 L111.75 213.15 L112.00 212.87 L112.25 212.58 L112.50 212.31 L112.75 212.05 L113.00 211.83 L113.25 211.65 L113.50 211.51 L113.75 211.43 L114.00 211.40 L114.25 211.43 L114.50 211.50 L114.75 211.62 L115.00 211.79 L115.25 211.99 L115.50 212.22 L115.75 212.47 L116.00 212.73 L116.25 212.99 L116.50 213.24 L116.75 213.47 L117.00 213.68 L117.25 213.84 L117.50 213.97 L117.75 214.04 L118.00 214.07 L118.25 214.04 L118.50 213.97 L118.75 213.86 L119.00 213.71 L119.25 213.52 L119.50 213.31 L119.75 213.08 L120.00 212.85 L120.25 212.61 L120.50 212.38 L120.75 212.17 L121.00 211.98 L121.25 211.83 L121.50 211.72 L121.75 211.65 L122.00 211.62 L122.25 211.65 L122.50 211.71 L122.75 211.82 L123.00 211.96 L123.25 212.14 L123.50 212.34 L123.75 212.55 L124.00 212.78 L124.25 213.00 L124.50 213.22 L124.75 213.42 L125.00 213.59 L125.25 213.73 L125.50 213.84 L125.75 213.91 L126.00 213.93 L126.25 213.91 L126.50 213.84 L126.75 213.74 L127.00 213.60 L127.25 213.44 L127.50 213.25 L127.75 213.04 L128.00 212.82 L128.25 212.61 L128.50 212.40 L128.75 212.21 L129.00 212.04 L129.25 211.91 L129.50 211.80 L129.75 211.74 L130.00 211.72 L130.25 211.74 L130.50 211.80 L130.75 211.90 L131.00 212.03 L131.25 212.19 L131.50 212.37 L131.75 212.57 L132.00 212.78 L132.25 212.98 L132.50 213.18 L132.75 213.36 L133.00 213.52 L133.25 213.65 L133.50 213.75 L133.75 213.81 L134.00 213.83 L134.25 213.81 L134.50 213.76 L134.75 213.66 L135.00 213.54 L135.25 213.38 L135.50 213.21 L135.75 213.02 L136.00 212.82 L136.25 212.63 L136.50 212.44 L136.75 212.26 L137.00 212.11 L137.25 211.99 L137.50 211.89 L137.75 211.84 L138.00 211.82 L138.25 211.83 L138.50 211.89 L138.75 211.98 L139.00 212.10 L139.25 212.24 L139.50 212.41 L139.75 212.59 L140.00 212.78 L140.25 212.96 L140.50 213.14 L140.75 213.31 L141.00 213.45 L141.25 213.57 L141.50 213.66 L141.75 213.72 L142.00 213.74 L142.25 213.72 L142.50 213.67 L142.75 213.58 L143.00 213.47 L143.25 213.33 L143.50 213.17 L143.75 213.00 L144.00 212.82 L144.25 212.65 L144.50 212.47 L144.75 212.32 L145.00 212.18 L145.25 212.07 L145.50 211.98 L145.75 211.93 L146.00 211.91 L146.25 211.93 L146.50 211.98 L146.75 212.06 L147.00 212.17 L147.25 212.30 L147.50 212.45 L147.75 212.61 L148.00 212.78 L148.25 212.94 L148.50 213.11 L148.75 213.26 L149.00 213.39 L149.25 213.49 L149.50 213.57 L149.75 213.62 L150.00 213.64 L150.25 213.62 L150.50 213.58 L150.75 213.50 L151.00 213.40 L151.25 213.28 L151.50 213.14 L151.75 212.98 L152.00 212.82 L152.25 212.66 L152.50 212.51 L152.75 212.37 L153.00 212.25 L153.25 212.15 L153.50 212.07 L153.75 212.02 L154.00 212.01 L154.25 212.02 L154.50 212.07 L154.75 212.14 L155.00 212.23 L155.25 212.35 L155.50 212.48 L155.75 212.63 L156.00 212.78 L156.25 212.93 L156.50 213.07 L156.75 213.20 L157.00 213.32 L157.25 213.41 L157.50 213.49 L157.75 213.53 L158.00 213.54 L158.25 213.53 L158.50 213.49 L158.75 213.42 L159.00 213.33 L159.25 213.22 L159.50 213.10 L159.75 212.96 L160.00 212.82 L160.25 212.68 L160.50 212.55 L160.75 212.42 L161.00 212.31 L161.25 212.23 L161.50 212.16 L161.75 212.12 L162.00 212.10 L162.25 212.12 L162.50 212.16 L162.75 212.22 L163.00 212.30 L163.25 212.40 L163.50 212.52 L163.75 212.64 L164.00 212.78 L164.25 212.91 L164.50 213.03 L164.75 213.15 L165.00 213.25 L165.25 213.33 L165.50 213.40 L165.75 213.44 L166.00 213.45 L166.25 213.44 L166.50 213.40 L166.75 213.34 L167.00 213.27 L167.25 213.17 L167.50 213.06 L167.75 212.95 L168.00 212.82 L168.25 212.70 L168.50 212.59 L168.75 212.48 L169.00 212.38 L169.25 212.31 L169.50 212.25 L169.75 212.21 L170.00 212.20 L170.25 212.21 L170.50 212.25 L170.75 212.30 L171.00 212.37 L171.25 212.46 L171.50 212.57 L171.75 212.68 L172.00 212.79 L172.25 212.91 L172.50 213.02 L172.75 213.12 L173.00 213.21 L173.25 213.29 L173.50 213.34 L173.75 213.38 L174.00 213.39 L174.25 213.38 L174.50 213.34 L174.75 213.29 L175.00 213.22 L175.25 213.13 L175.50 213.03 L175.75 212.92 L176.00 212.81 L176.25 212.69 L176.50 212.58 L176.75 212.48 L177.00 212.40 L177.25 212.32 L177.50 212.27 L177.75 212.24 L178.00 212.23 L178.25 212.24 L178.50 212.27 L178.75 212.32 L179.00 212.39 L179.25 212.48 L179.50 212.58 L179.75 212.68 L180.00 212.79 L180.25 212.90 L180.50 213.01 L180.75 213.11 L181.00 213.20 L181.25 213.27 L181.50 213.32 L181.75 213.35 L182.00 213.36 L182.25 213.35 L182.50 213.32 L182.75 213.27 L183.00 213.20 L183.25 213.12 L183.50 213.02 L183.75 212.91 L184.00 212.81 L184.25 212.70 L184.50 212.59 L184.75 212.50 L185.00 212.41 L185.25 212.34 L185.50 212.29 L185.75 212.26 L186.00 212.25 L186.25 212.26 L186.50 212.29 L186.75 212.34 L187.00 212.41 L187.25 212.49 L187.50 212.59 L187.75 212.69 L188.00 212.79 L188.25 212.90 L188.50 213.00 L188.75 213.10 L189.00 213.18 L189.25 213.25 L189.50 213.30 L189.75 213.33 L190.00 213.34 L190.25 213.33 L190.50 213.30 L190.75 213.25 L191.00 213.18 L191.25 213.10 L191.50 213.01 L191.75 212.91 L192.00 212.81 L192.25 212.70 L192.50 212.60 L192.75 212.51 L193.00 212.43 L193.25 212.37 L193.50 212.32 L193.75 212.29 L194.00 212.28 L194.25 212.29 L194.50 212.32 L194.75 212.36 L195.00 212.43 L195.25 212.51 L195.50 212.60 L195.75 212.69 L196.00 212.79 L196.25 212.89 L196.50 212.99 L196.75 213.08 L197.00 213.16 L197.25 213.22 L197.50 213.27 L197.75 213.30 L198.00 213.31 L198.25 213.30 L198.50 213.27 L198.75 213.23 L199.00 213.16 L199.25 213.09 L199.50 213.00 L199.75 212.90 L200.00 212.81 L200.25 212.71 L200.50 212.61 L200.75 212.53 L201.00 212.45 L201.25 212.39 L201.50 212.34 L201.75 212.31 L202.00 212.30 L202.25 212.31 L202.50 212.34 L202.75 212.38 L203.00 212.45 L203.25 212.52 L203.50 212.61 L203.75 212.70 L204.00 212.79 L204.25 212.89 L204.50 212.98 L204.75 213.07 L205.00 213.14 L205.25 213.20 L205.50 213.25 L205.75 213.28 L206.00 213.29 L206.25 213.28 L206.50 213.25 L206.75 213.21 L207.00 213.15 L207.25 213.07 L207.50 212.99 L207.75 212.90 L208.00 212.81 L208.25 212.71 L208.50 212.62 L208.75 212.54 L209.00 212.47 L209.25 212.41 L209.50 212.36 L209.75 212.34 L210.00 212.33 L210.25 212.34 L210.50 212.36 L210.75 212.41 L211.00 212.46 L211.25 212.53 L211.50 212.61 L211.75 212.70 L212.00 212.79 L212.25 212.88 L212.50 212.97 L212.75 213.05 L213.00 213.12 L213.25 213.18 L213.50 213.23 L213.75 213.25 L214.00 213.26 L214.25 213.25 L214.50 213.23 L214.75 213.18 L215.00 213.13 L215.25 213.06 L215.50 212.98 L215.75 212.90 L216.00 212.81 L216.25 212.72 L216.50 212.63 L216.75 212.55 L217.00 212.48 L217.25 212.43 L217.50 212.39 L217.75 212.36 L218.00 212.35 L218.25 212.36 L218.50 212.39 L218.75 212.43 L219.00 212.48 L219.25 212.55 L219.50 212.62 L219.75 212.71 L220.00 212.79 L220.25 212.88 L220.50 212.96 L220.75 213.04 L221.00 213.11 L221.25 213.16 L221.50 213.20 L221.75 213.23 L222.00 213.24 L222.25 213.23 L222.50 213.20 L222.75 213.16 L223.00 213.11 L223.25 213.04 L223.50 212.97 L223.75 212.89 L224.00 212.81 L224.25 212.72 L224.50 212.64 L224.75 212.57 L225.00 212.50 L225.25 212.45 L225.50 212.41 L225.75 212.39 L226.00 212.38 L226.25 212.38 L226.50 212.41 L226.75 212.45 L227.00 212.50 L227.25 212.56 L227.50 212.63 L227.75 212.71 L228.00 212.79 L228.25 212.88 L228.50 212.95 L228.75 213.03 L229.00 213.09 L229.25 213.14 L229.50 213.18 L229.75 213.20 L230.00 213.21 L230.25 213.20 L230.50 213.18 L230.75 213.14 L231.00 213.09 L231.25 213.03 L231.50 212.96 L231.75 212.89 L232.00 212.81 L232.25 212.73 L232.50 212.65 L232.75 212.58 L233.00 212.52 L233.25 212.47 L233.50 212.43 L233.75 212.41 L234.00 212.40 L234.25 212.41 L234.50 212.43 L234.75 212.47 L235.00 212.52 L235.25 212.58 L235.50 212.64 L235.75 212.72 L236.00 212.79 L236.25 212.87 L236.50 212.94 L236.75 213.01 L237.00 213.07 L237.25 213.12 L237.50 213.16 L237.75 213.18 L238.00 213.19 L238.25 213.18 L238.50 213.16 L238.75 213.12 L239.00 213.07 L239.25 213.02 L239.50 212.95 L239.75 212.88 L240.00 212.81 L240.25 212.73 L240.50 212.66 L240.75 212.60 L241.00 212.54 L241.25 212.49 L241.50 212.46 L241.75 212.43 L242.00 212.43 L242.25 212.43 L242.50 212.46 L242.75 212.49 L243.00 212.53 L243.25 212.59 L243.50 212.65 L243.75 212.72 L244.00 212.79 L244.25 212.87 L244.50 212.93 L244.75 213.00 L245.00 213.05 L245.25 213.10 L245.50 213.13 L245.75 213.15 L246.00 213.16 L246.25 213.15 L246.50 213.13 L246.75 213.10 L247.00 213.06 L247.25 213.00 L247.50 212.94 L247.75 212.88 L248.00 212.81 L248.25 212.74 L248.50 212.67 L248.75 212.61 L249.00 212.56 L249.25 212.51 L249.50 212.48 L249.75 212.46 L250.00 212.45 L250.25 212.46 L250.50 212.48 L250.75 212.51 L251.00 212.55 L251.25 212.60 L251.50 212.66 L251.75 212.73 L252.00 212.79 L252.25 212.86 L252.50 212.92 L252.75 212.98 L253.00 213.03 L253.25 213.08 L253.50 213.11 L253.75 213.13 L254.00 213.13 L254.25 213.13 L254.50 213.11 L254.75 213.08 L255.00 213.04 L255.25 212.99 L255.50 212.93 L255.75 212.87 L256.00 212.81 L256.25 212.74 L256.50 212.68 L256.75 212.62 L257.00 212.57 L257.25 212.53 L257.50 212.50 L257.75 212.48 L258.00 212.48 L258.25 212.48 L258.50 212.50 L258.75 212.53 L259.00 212.57 L259.25 212.62 L259.50 212.67 L259.75 212.73 L260.00 212.79 L260.25 212.86 L260.50 212.91 L260.75 212.97 L261.00 213.02 L261.25 213.06 L261.50 213.09 L261.75 213.10 L262.00 213.11 L262.26 213.10 L262.52 213.08 L262.78 213.05 L263.04 213.00 L263.30 212.95 L263.56 212.91 L263.82 212.86 L264.08 212.83 L264.34 212.81 L264.60 212.80" stroke="#EDB120" stroke-width="1.20" fill="none" stroke-linejoin="round"/>
<path d="M25.60 239.00V236.60M25.60 159.30V161.70M49.50 239.00V236.60M49.50 159.30V161.70M73.40 239.00V236.60M73.40 159.30V161.70M97.30 239.00V236.60M97.30 159.30V161.70M121.20 239.00V236.60M121.20 159.30V161.70M145.10 239.00V236.60M145.10 159.30V161.70M169.00 239.00V236.60M169.00 159.30V161.70M192.90 239.00V236.60M192.90 159.30V161.70M216.80 239.00V236.60M216.80 159.30V161.70M240.70 239.00V236.60M240.70 159.30V161.70M264.60 239.00V236.60M264.60 159.30V161.70M25.60 159.30H28.00M264.60 159.30H262.20M25.60 185.87H28.00M264.60 185.87H262.20M25.60 212.43H28.00M264.60 212.43H262.20M25.60 239.00H28.00M264.60 239.00H262.20M25.60 164.61H26.90M264.60 164.61H263.30M25.60 169.93H26.90M264.60 169.93H263.30M25.60 175.24H26.90M264.60 175.24H263.30M25.60 180.55H26.90M264.60 180.55H263.30M25.60 191.18H26.90M264.60 191.18H263.30M25.60 196.49H26.90M264.60 196.49H263.30M25.60 201.81H26.90M264.60 201.81H263.30M25.60 207.12H26.90M264.60 207.12H263.30M25.60 217.75H26.90M264.60 217.75H263.30M25.60 223.06H26.90M264.60 223.06H263.30M25.60 228.37H26.90M264.60 228.37H263.30M25.60 233.69H26.90M264.60 233.69H263.30" stroke="#b4b4b4" stroke-width="0.7" fill="none"/>
<rect x="25.60" y="159.30" width="239.00" height="79.70" fill="none" stroke="#b4b4b4" stroke-width="0.8"/>
<text x="25.60" y="247.90" font-size="7.70" text-anchor="middle" font-weight="normal" >0</text>
<text x="49.50" y="247.90" font-size="7.70" text-anchor="middle" font-weight="normal" >1</text>
<text x="73.40" y="247.90" font-size="7.70" text-anchor="middle" font-weight="normal" >2</text>
<text x="97.30" y="247.90" font-size="7.70" text-anchor="middle" font-weight="normal" >3</text>
<text x="121.20" y="247.90" font-size="7.70" text-anchor="middle" font-weight="normal" >4</text>
<text x="145.10" y="247.90" font-size="7.70" text-anchor="middle" font-weight="normal" >5</text>
<text x="169.00" y="247.90" font-size="7.70" text-anchor="middle" font-weight="normal" >6</text>
<text x="192.90" y="247.90" font-size="7.70" text-anchor="middle" font-weight="normal" >7</text>
<text x="216.80" y="247.90" font-size="7.70" text-anchor="middle" font-weight="normal" >8</text>
<text x="240.70" y="247.90" font-size="7.70" text-anchor="middle" font-weight="normal" >9</text>
<text x="264.60" y="247.90" font-size="7.70" text-anchor="middle" font-weight="normal" >10</text>
<text x="23.60" y="161.80" font-size="7.30" text-anchor="end" font-weight="normal" >2</text>
<text x="23.60" y="188.37" font-size="7.30" text-anchor="end" font-weight="normal" >1</text>
<text x="23.60" y="214.93" font-size="7.30" text-anchor="end" font-weight="normal" >0</text>
<text x="23.60" y="241.50" font-size="7.30" text-anchor="end" font-weight="normal" >−1</text>
<text x="26.40" y="156.60" font-size="7.70">×10<tspan font-size="5.80" dy="-2.4" dx="0.5">−4</tspan></text>
<text x="145.10" y="155.90" font-size="8.50" text-anchor="middle" font-weight="bold" >TDG − Primary case</text>
<text x="145.10" y="258.70" font-size="8.40" text-anchor="middle" font-weight="normal" >Time [s]</text>
<text transform="translate(11.90 199.30) rotate(-90)" font-size="8.50" text-anchor="middle">Amplitude [deg]</text>
<text x="134.40" y="277.70" font-size="12.20" text-anchor="middle" font-weight="normal" >(c)</text>
<rect x="244.20" y="160.10" width="19.40" height="25.60" fill="#fff" stroke="#c4c4c4" stroke-width="0.8"/>
<line x1="247.40" y1="165.40" x2="254.10" y2="165.40" stroke="#0072BD" stroke-width="1.3"/>
<text x="254.60" y="168.50" font-size="7.40" text-anchor="start" font-weight="normal" stroke="#333" stroke-width="0.3">Θ</text>
<line x1="247.40" y1="173.40" x2="254.10" y2="173.40" stroke="#D95319" stroke-width="1.3"/>
<text x="254.60" y="176.50" font-size="7.40" text-anchor="start" font-weight="normal" stroke="#333" stroke-width="0.3">Φ</text>
<line x1="247.40" y1="181.40" x2="254.10" y2="181.40" stroke="#EDB120" stroke-width="1.3"/>
<text x="254.60" y="184.50" font-size="7.40" text-anchor="start" font-weight="normal" stroke="#333" stroke-width="0.3">Ψ</text>
<line x1="305.65" y1="159.10" x2="305.65" y2="238.90" stroke="#f8f8f8" stroke-width="0.6"/>
<line x1="310.40" y1="159.10" x2="310.40" y2="238.90" stroke="#f8f8f8" stroke-width="0.6"/>
<line x1="315.16" y1="159.10" x2="315.16" y2="238.90" stroke="#f8f8f8" stroke-width="0.6"/>
<line x1="319.91" y1="159.10" x2="319.91" y2="238.90" stroke="#f8f8f8" stroke-width="0.6"/>
<line x1="329.41" y1="159.10" x2="329.41" y2="238.90" stroke="#f8f8f8" stroke-width="0.6"/>
<line x1="334.16" y1="159.10" x2="334.16" y2="238.90" stroke="#f8f8f8" stroke-width="0.6"/>
<line x1="338.92" y1="159.10" x2="338.92" y2="238.90" stroke="#f8f8f8" stroke-width="0.6"/>
<line x1="343.67" y1="159.10" x2="343.67" y2="238.90" stroke="#f8f8f8" stroke-width="0.6"/>
<line x1="353.17" y1="159.10" x2="353.17" y2="238.90" stroke="#f8f8f8" stroke-width="0.6"/>
<line x1="357.92" y1="159.10" x2="357.92" y2="238.90" stroke="#f8f8f8" stroke-width="0.6"/>
<line x1="362.68" y1="159.10" x2="362.68" y2="238.90" stroke="#f8f8f8" stroke-width="0.6"/>
<line x1="367.43" y1="159.10" x2="367.43" y2="238.90" stroke="#f8f8f8" stroke-width="0.6"/>
<line x1="376.93" y1="159.10" x2="376.93" y2="238.90" stroke="#f8f8f8" stroke-width="0.6"/>
<line x1="381.68" y1="159.10" x2="381.68" y2="238.90" stroke="#f8f8f8" stroke-width="0.6"/>
<line x1="386.44" y1="159.10" x2="386.44" y2="238.90" stroke="#f8f8f8" stroke-width="0.6"/>
<line x1="391.19" y1="159.10" x2="391.19" y2="238.90" stroke="#f8f8f8" stroke-width="0.6"/>
<line x1="400.69" y1="159.10" x2="400.69" y2="238.90" stroke="#f8f8f8" stroke-width="0.6"/>
<line x1="405.44" y1="159.10" x2="405.44" y2="238.90" stroke="#f8f8f8" stroke-width="0.6"/>
<line x1="410.20" y1="159.10" x2="410.20" y2="238.90" stroke="#f8f8f8" stroke-width="0.6"/>
<line x1="414.95" y1="159.10" x2="414.95" y2="238.90" stroke="#f8f8f8" stroke-width="0.6"/>
<line x1="424.45" y1="159.10" x2="424.45" y2="238.90" stroke="#f8f8f8" stroke-width="0.6"/>
<line x1="429.20" y1="159.10" x2="429.20" y2="238.90" stroke="#f8f8f8" stroke-width="0.6"/>
<line x1="433.96" y1="159.10" x2="433.96" y2="238.90" stroke="#f8f8f8" stroke-width="0.6"/>
<line x1="438.71" y1="159.10" x2="438.71" y2="238.90" stroke="#f8f8f8" stroke-width="0.6"/>
<line x1="448.21" y1="159.10" x2="448.21" y2="238.90" stroke="#f8f8f8" stroke-width="0.6"/>
<line x1="452.96" y1="159.10" x2="452.96" y2="238.90" stroke="#f8f8f8" stroke-width="0.6"/>
<line x1="457.72" y1="159.10" x2="457.72" y2="238.90" stroke="#f8f8f8" stroke-width="0.6"/>
<line x1="462.47" y1="159.10" x2="462.47" y2="238.90" stroke="#f8f8f8" stroke-width="0.6"/>
<line x1="471.97" y1="159.10" x2="471.97" y2="238.90" stroke="#f8f8f8" stroke-width="0.6"/>
<line x1="476.72" y1="159.10" x2="476.72" y2="238.90" stroke="#f8f8f8" stroke-width="0.6"/>
<line x1="481.48" y1="159.10" x2="481.48" y2="238.90" stroke="#f8f8f8" stroke-width="0.6"/>
<line x1="486.23" y1="159.10" x2="486.23" y2="238.90" stroke="#f8f8f8" stroke-width="0.6"/>
<line x1="495.73" y1="159.10" x2="495.73" y2="238.90" stroke="#f8f8f8" stroke-width="0.6"/>
<line x1="500.48" y1="159.10" x2="500.48" y2="238.90" stroke="#f8f8f8" stroke-width="0.6"/>
<line x1="505.24" y1="159.10" x2="505.24" y2="238.90" stroke="#f8f8f8" stroke-width="0.6"/>
<line x1="509.99" y1="159.10" x2="509.99" y2="238.90" stroke="#f8f8f8" stroke-width="0.6"/>
<line x1="519.49" y1="159.10" x2="519.49" y2="238.90" stroke="#f8f8f8" stroke-width="0.6"/>
<line x1="524.24" y1="159.10" x2="524.24" y2="238.90" stroke="#f8f8f8" stroke-width="0.6"/>
<line x1="529.00" y1="159.10" x2="529.00" y2="238.90" stroke="#f8f8f8" stroke-width="0.6"/>
<line x1="533.75" y1="159.10" x2="533.75" y2="238.90" stroke="#f8f8f8" stroke-width="0.6"/>
<line x1="300.90" y1="163.53" x2="538.50" y2="163.53" stroke="#f8f8f8" stroke-width="0.6"/>
<line x1="300.90" y1="167.97" x2="538.50" y2="167.97" stroke="#f8f8f8" stroke-width="0.6"/>
<line x1="300.90" y1="172.40" x2="538.50" y2="172.40" stroke="#f8f8f8" stroke-width="0.6"/>
<line x1="300.90" y1="181.27" x2="538.50" y2="181.27" stroke="#f8f8f8" stroke-width="0.6"/>
<line x1="300.90" y1="185.70" x2="538.50" y2="185.70" stroke="#f8f8f8" stroke-width="0.6"/>
<line x1="300.90" y1="190.13" x2="538.50" y2="190.13" stroke="#f8f8f8" stroke-width="0.6"/>
<line x1="300.90" y1="199.00" x2="538.50" y2="199.00" stroke="#f8f8f8" stroke-width="0.6"/>
<line x1="300.90" y1="203.43" x2="538.50" y2="203.43" stroke="#f8f8f8" stroke-width="0.6"/>
<line x1="300.90" y1="207.87" x2="538.50" y2="207.87" stroke="#f8f8f8" stroke-width="0.6"/>
<line x1="300.90" y1="216.73" x2="538.50" y2="216.73" stroke="#f8f8f8" stroke-width="0.6"/>
<line x1="300.90" y1="221.17" x2="538.50" y2="221.17" stroke="#f8f8f8" stroke-width="0.6"/>
<line x1="300.90" y1="225.60" x2="538.50" y2="225.60" stroke="#f8f8f8" stroke-width="0.6"/>
<line x1="300.90" y1="234.47" x2="538.50" y2="234.47" stroke="#f8f8f8" stroke-width="0.6"/>
<line x1="300.90" y1="159.10" x2="300.90" y2="238.90" stroke="#ededed" stroke-width="0.7"/>
<line x1="324.66" y1="159.10" x2="324.66" y2="238.90" stroke="#ededed" stroke-width="0.7"/>
<line x1="348.42" y1="159.10" x2="348.42" y2="238.90" stroke="#ededed" stroke-width="0.7"/>
<line x1="372.18" y1="159.10" x2="372.18" y2="238.90" stroke="#ededed" stroke-width="0.7"/>
<line x1="395.94" y1="159.10" x2="395.94" y2="238.90" stroke="#ededed" stroke-width="0.7"/>
<line x1="419.70" y1="159.10" x2="419.70" y2="238.90" stroke="#ededed" stroke-width="0.7"/>
<line x1="443.46" y1="159.10" x2="443.46" y2="238.90" stroke="#ededed" stroke-width="0.7"/>
<line x1="467.22" y1="159.10" x2="467.22" y2="238.90" stroke="#ededed" stroke-width="0.7"/>
<line x1="490.98" y1="159.10" x2="490.98" y2="238.90" stroke="#ededed" stroke-width="0.7"/>
<line x1="514.74" y1="159.10" x2="514.74" y2="238.90" stroke="#ededed" stroke-width="0.7"/>
<line x1="538.50" y1="159.10" x2="538.50" y2="238.90" stroke="#ededed" stroke-width="0.7"/>
<line x1="300.90" y1="159.10" x2="538.50" y2="159.10" stroke="#ededed" stroke-width="0.7"/>
<line x1="300.90" y1="176.83" x2="538.50" y2="176.83" stroke="#ededed" stroke-width="0.7"/>
<line x1="300.90" y1="194.57" x2="538.50" y2="194.57" stroke="#ededed" stroke-width="0.7"/>
<line x1="300.90" y1="212.30" x2="538.50" y2="212.30" stroke="#ededed" stroke-width="0.7"/>
<line x1="300.90" y1="230.03" x2="538.50" y2="230.03" stroke="#ededed" stroke-width="0.7"/>
<path d="M301.00 213.60 L301.25 213.58 L301.50 213.53 L301.75 213.45 L301.99 213.38 L302.24 213.32 L302.49 213.30 L302.74 213.08 L302.99 212.44 L303.24 211.38 L303.49 209.93 L303.74 208.11 L303.99 205.95 L304.25 203.50 L304.50 200.80 L304.75 197.90 L305.00 194.86 L305.25 191.73 L305.50 188.57 L305.75 185.44 L306.00 182.40 L306.25 179.50 L306.50 176.80 L306.75 174.35 L307.00 172.19 L307.25 170.37 L307.50 168.92 L307.76 167.86 L308.01 167.22 L308.26 167.00 L308.51 167.33 L308.75 168.30 L309.00 169.89 L309.25 172.08 L309.50 174.82 L309.75 178.04 L310.00 181.70 L310.24 185.71 L310.49 189.98 L310.74 194.45 L310.99 199.00 L311.24 203.55 L311.49 208.02 L311.74 212.29 L311.98 216.30 L312.23 219.96 L312.48 223.18 L312.73 225.92 L312.98 228.11 L313.23 229.70 L313.48 230.67 L313.72 231.00 L313.97 230.75 L314.22 230.02 L314.47 228.83 L314.72 227.21 L314.97 225.21 L315.22 222.89 L315.46 220.33 L315.71 217.60 L315.96 214.78 L316.21 211.96 L316.46 209.23 L316.71 206.67 L316.96 204.35 L317.20 202.35 L317.45 200.73 L317.70 199.54 L317.95 198.81 L318.20 198.56 L318.45 198.86 L318.71 199.75 L318.96 201.19 L319.22 203.14 L319.47 205.51 L319.73 208.21 L319.99 211.15 L320.24 214.20 L320.50 217.25 L320.75 220.18 L321.01 222.89 L321.26 225.26 L321.52 227.20 L321.77 228.65 L322.03 229.54 L322.28 229.84 L322.54 229.54 L322.79 228.67 L323.05 227.25 L323.31 225.34 L323.56 223.02 L323.82 220.37 L324.07 217.49 L324.33 214.49 L324.58 211.50 L324.84 208.62 L325.09 205.97 L325.35 203.64 L325.60 201.73 L325.86 200.32 L326.11 199.44 L326.37 199.15 L326.63 199.43 L326.88 200.29 L327.14 201.67 L327.39 203.53 L327.65 205.80 L327.90 208.39 L328.16 211.19 L328.41 214.11 L328.67 217.03 L328.92 219.84 L329.18 222.43 L329.43 224.70 L329.69 226.56 L329.95 227.94 L330.20 228.79 L330.46 229.08 L330.71 228.80 L330.97 227.97 L331.22 226.63 L331.48 224.81 L331.73 222.61 L331.99 220.09 L332.24 217.35 L332.50 214.51 L332.75 211.67 L333.01 208.94 L333.26 206.42 L333.52 204.21 L333.78 202.40 L334.03 201.05 L334.29 200.23 L334.54 199.95 L334.80 200.22 L335.05 201.02 L335.31 202.33 L335.56 204.08 L335.82 206.22 L336.07 208.66 L336.33 211.31 L336.58 214.07 L336.84 216.82 L337.10 219.47 L337.35 221.91 L337.61 224.05 L337.86 225.81 L338.12 227.11 L338.37 227.91 L338.63 228.19 L338.88 227.92 L339.14 227.14 L339.39 225.86 L339.65 224.14 L339.90 222.05 L340.16 219.66 L340.42 217.08 L340.67 214.38 L340.93 211.69 L341.18 209.10 L341.44 206.71 L341.69 204.62 L341.95 202.91 L342.20 201.63 L342.46 200.84 L342.71 200.58 L342.97 200.84 L343.22 201.61 L343.48 202.86 L343.74 204.54 L343.99 206.60 L344.25 208.94 L344.50 211.47 L344.76 214.12 L345.01 216.76 L345.27 219.30 L345.52 221.64 L345.78 223.69 L346.03 225.37 L346.29 226.62 L346.54 227.39 L346.80 227.65 L347.05 227.39 L347.31 226.62 L347.57 225.37 L347.82 223.68 L348.08 221.63 L348.33 219.28 L348.59 216.74 L348.84 214.09 L349.10 211.45 L349.35 208.90 L349.61 206.56 L349.86 204.51 L350.12 202.82 L350.37 201.57 L350.63 200.79 L350.89 200.53 L351.14 200.79 L351.40 201.54 L351.65 202.75 L351.91 204.39 L352.16 206.39 L352.42 208.66 L352.67 211.13 L352.93 213.70 L353.18 216.27 L353.44 218.74 L353.69 221.02 L353.95 223.01 L354.21 224.65 L354.46 225.87 L354.72 226.62 L354.97 226.87 L355.23 226.63 L355.48 225.91 L355.74 224.74 L355.99 223.17 L356.25 221.25 L356.50 219.07 L356.76 216.70 L357.01 214.24 L357.27 211.77 L357.53 209.40 L357.78 207.22 L358.04 205.30 L358.29 203.73 L358.55 202.56 L358.80 201.84 L359.06 201.60 L359.31 201.84 L359.57 202.53 L359.82 203.66 L360.08 205.17 L360.33 207.02 L360.59 209.12 L360.84 211.41 L361.10 213.79 L361.36 216.16 L361.61 218.45 L361.87 220.56 L362.12 222.40 L362.38 223.92 L362.63 225.04 L362.89 225.74 L363.14 225.97 L363.40 225.74 L363.65 225.05 L363.91 223.94 L364.16 222.44 L364.42 220.61 L364.68 218.52 L364.93 216.26 L365.19 213.90 L365.44 211.55 L365.70 209.28 L365.95 207.20 L366.21 205.37 L366.46 203.87 L366.72 202.75 L366.97 202.07 L367.23 201.83 L367.48 202.05 L367.74 202.70 L368.00 203.76 L368.25 205.18 L368.51 206.91 L368.76 208.89 L369.02 211.03 L369.27 213.26 L369.53 215.49 L369.78 217.64 L370.04 219.62 L370.29 221.35 L370.55 222.77 L370.80 223.83 L371.06 224.48 L371.32 224.70 L371.57 224.49 L371.83 223.89 L372.08 222.91 L372.34 221.59 L372.59 219.99 L372.85 218.16 L373.10 216.17 L373.36 214.11 L373.61 212.04 L373.87 210.06 L374.12 208.22 L374.38 206.62 L374.63 205.30 L374.89 204.32 L375.15 203.72 L375.40 203.52 L375.66 203.71 L375.91 204.26 L376.17 205.16 L376.42 206.36 L376.68 207.83 L376.93 209.51 L377.19 211.34 L377.44 213.23 L377.70 215.13 L377.95 216.95 L378.21 218.63 L378.47 220.10 L378.72 221.31 L378.98 222.20 L379.23 222.76 L379.49 222.94 L379.74 222.77 L380.00 222.25 L380.25 221.41 L380.51 220.28 L380.76 218.90 L381.02 217.33 L381.27 215.63 L381.53 213.85 L381.79 212.08 L382.04 210.37 L382.30 208.80 L382.55 207.43 L382.81 206.30 L383.06 205.46 L383.32 204.94 L383.57 204.76 L383.83 204.93 L384.08 205.41 L384.34 206.19 L384.59 207.25 L384.85 208.53 L385.11 210.00 L385.36 211.59 L385.62 213.25 L385.87 214.90 L386.13 216.49 L386.38 217.96 L386.64 219.25 L386.89 220.30 L387.15 221.09 L387.40 221.57 L387.66 221.73 L387.91 221.57 L388.17 221.11 L388.42 220.35 L388.68 219.33 L388.94 218.09 L389.19 216.67 L389.45 215.13 L389.70 213.54 L389.96 211.94 L390.21 210.40 L390.47 208.98 L390.72 207.74 L390.98 206.72 L391.23 205.96 L391.49 205.50 L391.74 205.34 L392.00 205.49 L392.26 205.95 L392.51 206.69 L392.77 207.68 L393.02 208.89 L393.28 210.28 L393.53 211.78 L393.79 213.34 L394.04 214.90 L394.30 216.40 L394.55 217.78 L394.81 218.99 L395.06 219.98 L395.32 220.72 L395.58 221.18 L395.83 221.33 L396.09 221.18 L396.34 220.71 L396.60 219.96 L396.85 218.96 L397.11 217.73 L397.36 216.32 L397.62 214.80 L397.87 213.22 L398.13 211.63 L398.38 210.11 L398.64 208.71 L398.90 207.48 L399.15 206.47 L399.41 205.72 L399.66 205.25 L399.92 205.10 L400.17 205.25 L400.43 205.70 L400.68 206.43 L400.94 207.42 L401.19 208.62 L401.45 209.98 L401.70 211.47 L401.96 213.01 L402.21 214.56 L402.47 216.04 L402.73 217.41 L402.98 218.61 L403.24 219.59 L403.49 220.32 L403.75 220.77 L404.00 220.93 L404.26 220.78 L404.51 220.34 L404.77 219.62 L405.02 218.66 L405.28 217.48 L405.53 216.14 L405.79 214.69 L406.05 213.18 L406.30 211.67 L406.56 210.21 L406.81 208.87 L407.07 207.70 L407.32 206.73 L407.58 206.02 L407.83 205.58 L408.09 205.43 L408.34 205.57 L408.60 205.99 L408.85 206.68 L409.11 207.60 L409.37 208.72 L409.62 210.01 L409.88 211.40 L410.13 212.85 L410.39 214.29 L410.64 215.68 L410.90 216.97 L411.15 218.09 L411.41 219.01 L411.66 219.70 L411.92 220.12 L412.17 220.26 L412.43 220.12 L412.69 219.71 L412.94 219.04 L413.20 218.13 L413.45 217.03 L413.71 215.77 L413.96 214.40 L414.22 212.98 L414.47 211.56 L414.73 210.20 L414.98 208.94 L415.24 207.84 L415.49 206.93 L415.75 206.26 L416.00 205.84 L416.26 205.70 L416.52 205.84 L416.77 206.23 L417.03 206.87 L417.28 207.73 L417.54 208.78 L417.79 209.98 L418.05 211.28 L418.30 212.63 L418.56 213.98 L418.81 215.28 L419.07 216.47 L419.32 217.52 L419.58 218.39 L419.84 219.03 L420.09 219.42 L420.35 219.55 L420.60 219.42 L420.86 219.04 L421.11 218.42 L421.37 217.59 L421.62 216.57 L421.88 215.41 L422.13 214.15 L422.39 212.84 L422.64 211.53 L422.90 210.27 L423.16 209.11 L423.41 208.10 L423.67 207.26 L423.92 206.64 L424.18 206.26 L424.43 206.13 L424.69 206.25 L424.94 206.61 L425.20 207.18 L425.45 207.96 L425.71 208.90 L425.96 209.98 L426.22 211.15 L426.48 212.37 L426.73 213.59 L426.99 214.76 L427.24 215.83 L427.50 216.78 L427.75 217.55 L428.01 218.13 L428.26 218.49 L428.52 218.61 L428.77 218.49 L429.03 218.16 L429.28 217.62 L429.54 216.89 L429.79 216.00 L430.05 214.98 L430.31 213.88 L430.56 212.74 L430.82 211.59 L431.07 210.49 L431.33 209.48 L431.58 208.59 L431.84 207.86 L432.09 207.31 L432.35 206.98 L432.60 206.87 L432.86 206.97 L433.11 207.28 L433.37 207.78 L433.63 208.45 L433.88 209.27 L434.14 210.20 L434.39 211.21 L434.65 212.26 L434.90 213.32 L435.16 214.33 L435.41 215.26 L435.67 216.08 L435.92 216.75 L436.18 217.25 L436.43 217.55 L436.69 217.66 L436.95 217.56 L437.20 217.26 L437.46 216.79 L437.71 216.14 L437.97 215.36 L438.22 214.46 L438.48 213.49 L438.73 212.48 L438.99 211.47 L439.24 210.50 L439.50 209.60 L439.75 208.82 L440.01 208.18 L440.27 207.70 L440.52 207.40 L440.78 207.30 L441.03 207.39 L441.29 207.67 L441.54 208.11 L441.80 208.71 L442.05 209.43 L442.31 210.26 L442.56 211.16 L442.82 212.09 L443.07 213.03 L443.33 213.93 L443.58 214.76 L443.84 215.48 L444.10 216.08 L444.35 216.52 L444.61 216.79 L444.86 216.88 L445.12 216.80 L445.37 216.54 L445.63 216.12 L445.88 215.55 L446.14 214.87 L446.39 214.08 L446.65 213.23 L446.90 212.34 L447.16 211.46 L447.42 210.60 L447.67 209.82 L447.93 209.13 L448.18 208.56 L448.44 208.14 L448.69 207.89 L448.95 207.80 L449.20 207.88 L449.46 208.12 L449.71 208.51 L449.97 209.04 L450.22 209.68 L450.48 210.42 L450.74 211.21 L450.99 212.04 L451.25 212.87 L451.50 213.66 L451.76 214.40 L452.01 215.04 L452.27 215.57 L452.52 215.96 L452.78 216.20 L453.03 216.28 L453.29 216.20 L453.54 215.97 L453.80 215.60 L454.06 215.10 L454.31 214.48 L454.57 213.79 L454.82 213.03 L455.08 212.24 L455.33 211.45 L455.59 210.69 L455.84 209.99 L456.10 209.38 L456.35 208.88 L456.61 208.51 L456.86 208.28 L457.12 208.20 L457.37 208.27 L457.63 208.50 L457.89 208.86 L458.14 209.36 L458.40 209.95 L458.65 210.64 L458.91 211.38 L459.16 212.15 L459.42 212.92 L459.67 213.66 L459.93 214.35 L460.18 214.95 L460.44 215.44 L460.69 215.80 L460.95 216.03 L461.21 216.10 L461.46 216.03 L461.72 215.80 L461.97 215.44 L462.23 214.95 L462.48 214.36 L462.74 213.68 L462.99 212.94 L463.25 212.18 L463.50 211.41 L463.76 210.68 L464.01 210.00 L464.27 209.40 L464.53 208.91 L464.78 208.55 L465.04 208.33 L465.29 208.25 L465.55 208.33 L465.80 208.55 L466.06 208.91 L466.31 209.39 L466.57 209.98 L466.82 210.65 L467.08 211.38 L467.33 212.13 L467.59 212.89 L467.85 213.62 L468.10 214.29 L468.36 214.88 L468.61 215.36 L468.87 215.72 L469.12 215.94 L469.38 216.01 L469.63 215.94 L469.89 215.72 L470.14 215.36 L470.40 214.89 L470.65 214.30 L470.91 213.64 L471.16 212.91 L471.42 212.16 L471.68 211.41 L471.93 210.69 L472.19 210.02 L472.44 209.44 L472.70 208.96 L472.95 208.60 L473.21 208.38 L473.46 208.31 L473.72 208.38 L473.97 208.60 L474.23 208.95 L474.48 209.42 L474.74 210.00 L475.00 210.66 L475.25 211.37 L475.51 212.12 L475.76 212.86 L476.02 213.57 L476.27 214.23 L476.53 214.81 L476.78 215.28 L477.04 215.63 L477.29 215.85 L477.55 215.92 L477.80 215.85 L478.06 215.64 L478.32 215.29 L478.57 214.82 L478.83 214.24 L479.08 213.59 L479.34 212.88 L479.59 212.14 L479.85 211.41 L480.10 210.70 L480.36 210.04 L480.61 209.47 L480.87 209.00 L481.12 208.65 L481.38 208.44 L481.64 208.36 L481.89 208.44 L482.15 208.65 L482.40 208.99 L482.66 209.46 L482.91 210.02 L483.17 210.67 L483.42 211.37 L483.68 212.10 L483.93 212.83 L484.19 213.53 L484.44 214.17 L484.70 214.74 L484.95 215.20 L485.21 215.55 L485.47 215.76 L485.72 215.83 L485.98 215.76 L486.23 215.55 L486.49 215.21 L486.74 214.75 L487.00 214.19 L487.25 213.54 L487.51 212.85 L487.76 212.13 L488.02 211.40 L488.27 210.71 L488.53 210.07 L488.79 209.51 L489.04 209.05 L489.30 208.70 L489.55 208.49 L489.81 208.42 L490.06 208.49 L490.32 208.70 L490.57 209.04 L490.83 209.49 L491.08 210.05 L491.34 210.68 L491.59 211.37 L491.85 212.08 L492.11 212.80 L492.36 213.48 L492.62 214.12 L492.87 214.67 L493.13 215.13 L493.38 215.46 L493.64 215.67 L493.89 215.74 L494.15 215.67 L494.40 215.47 L494.66 215.13 L494.91 214.68 L495.17 214.13 L495.43 213.50 L495.68 212.82 L495.94 212.11 L496.19 211.40 L496.45 210.72 L496.70 210.09 L496.96 209.54 L497.21 209.09 L497.47 208.75 L497.72 208.55 L497.98 208.48 L498.23 208.54 L498.49 208.74 L498.74 209.06 L499.00 209.50 L499.26 210.03 L499.51 210.63 L499.77 211.29 L500.02 211.97 L500.28 212.65 L500.53 213.31 L500.79 213.91 L501.04 214.44 L501.30 214.87 L501.55 215.20 L501.81 215.39 L502.06 215.46 L502.32 215.40 L502.58 215.22 L502.83 214.92 L503.09 214.51 L503.34 214.02 L503.60 213.46 L503.85 212.86 L504.11 212.22 L504.36 211.59 L504.62 210.99 L504.87 210.43 L505.13 209.94 L505.38 209.53 L505.64 209.23 L505.90 209.05 L506.15 208.99 L506.41 209.04 L506.66 209.21 L506.92 209.48 L507.17 209.84 L507.43 210.29 L507.68 210.79 L507.94 211.34 L508.19 211.91 L508.45 212.49 L508.70 213.03 L508.96 213.54 L509.22 213.98 L509.47 214.35 L509.73 214.62 L509.98 214.79 L510.24 214.84 L510.49 214.79 L510.75 214.64 L511.00 214.40 L511.26 214.07 L511.51 213.67 L511.77 213.21 L512.02 212.71 L512.28 212.20 L512.53 211.68 L512.79 211.19 L513.05 210.73 L513.30 210.33 L513.56 210.00 L513.81 209.75 L514.07 209.60 L514.32 209.55 L514.58 209.60 L514.83 209.74 L515.09 209.97 L515.34 210.28 L515.60 210.66 L515.85 211.09 L516.11 211.55 L516.37 212.04 L516.62 212.52 L516.88 212.99 L517.13 213.42 L517.39 213.80 L517.64 214.11 L517.90 214.34 L518.15 214.48 L518.41 214.53 L518.66 214.48 L518.92 214.34 L519.17 214.11 L519.43 213.80 L519.69 213.42 L519.94 213.00 L520.20 212.53 L520.45 212.05 L520.71 211.56 L520.96 211.10 L521.22 210.67 L521.47 210.29 L521.73 209.99 L521.98 209.76 L522.24 209.62 L522.49 209.57 L522.75 209.62 L523.01 209.76 L523.26 209.98 L523.52 210.29 L523.77 210.66 L524.03 211.08 L524.28 211.54 L524.54 212.02 L524.79 212.50 L525.05 212.96 L525.30 213.39 L525.56 213.76 L525.81 214.06 L526.07 214.29 L526.32 214.43 L526.58 214.48 L526.84 214.43 L527.09 214.29 L527.35 214.06 L527.60 213.76 L527.86 213.39 L528.11 212.97 L528.37 212.51 L528.62 212.03 L528.88 211.55 L529.13 211.09 L529.39 210.67 L529.64 210.30 L529.90 210.00 L530.16 209.77 L530.41 209.63 L530.67 209.58 L530.92 209.63 L531.18 209.77 L531.43 209.99 L531.69 210.29 L531.94 210.66 L532.20 211.08 L532.45 211.53 L532.71 212.00 L532.96 212.48 L533.22 212.93 L533.48 213.35 L533.73 213.72 L533.99 214.02 L534.24 214.24 L534.50 214.38 L534.75 214.43 L535.00 214.40 L535.25 214.32 L535.50 214.19 L535.75 214.02 L536.00 213.82 L536.25 213.59 L536.50 213.34 L536.75 213.09 L537.00 212.84 L537.25 212.61 L537.50 212.40 L537.75 212.23 L538.00 212.11 L538.25 212.03 L538.50 212.00" stroke="#0072BD" stroke-width="1.20" fill="none" stroke-linejoin="round"/>
<path d="M301.00 213.60 L301.25 213.58 L301.50 213.53 L301.75 213.45 L301.99 213.38 L302.24 213.32 L302.49 213.30 L302.75 213.04 L303.01 212.26 L303.26 210.97 L303.52 209.21 L303.78 207.01 L304.04 204.41 L304.29 201.47 L304.55 198.25 L304.81 194.80 L305.07 191.21 L305.32 187.55 L305.58 183.89 L305.84 180.30 L306.10 176.85 L306.35 173.63 L306.61 170.69 L306.87 168.09 L307.13 165.89 L307.38 164.13 L307.64 162.84 L307.90 162.06 L308.16 161.80 L308.41 162.19 L308.66 163.35 L308.91 165.26 L309.16 167.87 L309.41 171.13 L309.66 174.96 L309.91 179.28 L310.16 183.98 L310.42 188.97 L310.67 194.14 L310.92 199.36 L311.17 204.53 L311.42 209.52 L311.67 214.22 L311.92 218.54 L312.17 222.37 L312.42 225.63 L312.67 228.24 L312.92 230.15 L313.18 231.31 L313.43 231.70 L313.67 231.38 L313.92 230.42 L314.17 228.87 L314.42 226.79 L314.67 224.25 L314.92 221.35 L315.17 218.20 L315.41 214.93 L315.66 211.66 L315.91 208.52 L316.16 205.62 L316.41 203.08 L316.66 200.99 L316.91 199.44 L317.15 198.49 L317.40 198.17 L317.66 198.51 L317.92 199.52 L318.18 201.16 L318.44 203.36 L318.70 206.01 L318.96 209.01 L319.22 212.22 L319.48 215.49 L319.74 218.70 L320.00 221.70 L320.26 224.35 L320.52 226.55 L320.78 228.19 L321.04 229.20 L321.30 229.54 L321.56 229.21 L321.83 228.23 L322.09 226.63 L322.35 224.50 L322.61 221.92 L322.87 219.01 L323.13 215.90 L323.39 212.71 L323.65 209.59 L323.91 206.68 L324.17 204.11 L324.43 201.97 L324.69 200.38 L324.95 199.40 L325.21 199.06 L325.47 199.39 L325.73 200.34 L325.99 201.88 L326.25 203.94 L326.51 206.43 L326.77 209.25 L327.03 212.26 L327.29 215.34 L327.55 218.35 L327.81 221.17 L328.07 223.66 L328.33 225.72 L328.59 227.26 L328.85 228.22 L329.11 228.54 L329.37 228.23 L329.63 227.30 L329.89 225.81 L330.15 223.82 L330.41 221.40 L330.67 218.68 L330.93 215.76 L331.19 212.78 L331.45 209.86 L331.71 207.13 L331.97 204.72 L332.23 202.72 L332.49 201.23 L332.75 200.31 L333.01 200.00 L333.27 200.29 L333.53 201.16 L333.79 202.57 L334.05 204.45 L334.31 206.73 L334.57 209.30 L334.83 212.06 L335.09 214.87 L335.35 217.62 L335.61 220.20 L335.87 222.47 L336.13 224.36 L336.39 225.76 L336.65 226.63 L336.91 226.93 L337.17 226.66 L337.43 225.85 L337.69 224.55 L337.95 222.81 L338.21 220.71 L338.47 218.34 L338.73 215.79 L338.99 213.20 L339.25 210.65 L339.51 208.28 L339.77 206.18 L340.03 204.44 L340.29 203.14 L340.55 202.34 L340.81 202.06 L341.07 202.31 L341.34 203.05 L341.60 204.24 L341.86 205.84 L342.12 207.76 L342.38 209.94 L342.64 212.27 L342.90 214.65 L343.16 216.98 L343.42 219.16 L343.68 221.09 L343.94 222.68 L344.20 223.87 L344.46 224.61 L344.72 224.86 L344.98 224.63 L345.24 223.95 L345.50 222.84 L345.76 221.37 L346.02 219.58 L346.28 217.57 L346.54 215.41 L346.80 213.20 L347.06 211.04 L347.32 209.03 L347.58 207.24 L347.84 205.77 L348.10 204.66 L348.36 203.98 L348.62 203.75 L348.88 203.96 L349.14 204.59 L349.40 205.60 L349.66 206.96 L349.92 208.60 L350.18 210.45 L350.44 212.43 L350.70 214.46 L350.96 216.44 L351.22 218.29 L351.48 219.93 L351.74 221.28 L352.00 222.30 L352.26 222.92 L352.52 223.13 L352.78 222.94 L353.04 222.36 L353.30 221.42 L353.56 220.16 L353.82 218.64 L354.08 216.92 L354.34 215.08 L354.60 213.20 L354.86 211.36 L355.12 209.64 L355.38 208.12 L355.64 206.86 L355.90 205.92 L356.16 205.34 L356.42 205.15 L356.68 205.32 L356.94 205.83 L357.20 206.66 L357.46 207.77 L357.72 209.11 L357.98 210.62 L358.24 212.24 L358.50 213.90 L358.76 215.52 L359.02 217.04 L359.28 218.38 L359.54 219.48 L359.80 220.31 L360.06 220.83 L360.32 221.00 L360.58 220.85 L360.85 220.42 L361.11 219.73 L361.37 218.80 L361.63 217.67 L361.89 216.40 L362.15 215.04 L362.41 213.65 L362.67 212.29 L362.93 211.02 L363.19 209.90 L363.45 208.97 L363.71 208.27 L363.97 207.84 L364.23 207.70 L364.49 207.82 L364.75 208.19 L365.01 208.78 L365.27 209.58 L365.53 210.54 L365.79 211.63 L366.05 212.79 L366.31 213.99 L366.57 215.15 L366.83 216.24 L367.09 217.20 L367.35 218.00 L367.61 218.59 L367.87 218.96 L368.13 219.08 L368.39 218.97 L368.65 218.63 L368.91 218.08 L369.17 217.34 L369.43 216.45 L369.69 215.45 L369.95 214.37 L370.21 213.27 L370.47 212.19 L370.73 211.19 L370.99 210.30 L371.25 209.56 L371.51 209.01 L371.77 208.67 L372.03 208.56 L372.29 208.67 L372.55 209.00 L372.81 209.53 L373.07 210.25 L373.33 211.11 L373.59 212.09 L373.85 213.13 L374.11 214.20 L374.37 215.25 L374.63 216.22 L374.89 217.09 L375.15 217.80 L375.41 218.33 L375.67 218.66 L375.93 218.78 L376.19 218.66 L376.45 218.31 L376.71 217.74 L376.97 216.99 L377.23 216.08 L377.49 215.04 L377.75 213.94 L378.01 212.81 L378.27 211.71 L378.53 210.68 L378.79 209.76 L379.05 209.01 L379.31 208.44 L379.57 208.09 L379.83 207.98 L380.10 208.09 L380.36 208.45 L380.62 209.02 L380.88 209.79 L381.14 210.71 L381.40 211.76 L381.66 212.88 L381.92 214.02 L382.18 215.14 L382.44 216.19 L382.70 217.12 L382.96 217.88 L383.22 218.46 L383.48 218.81 L383.74 218.93 L384.00 218.81 L384.26 218.45 L384.52 217.87 L384.78 217.10 L385.04 216.17 L385.30 215.11 L385.56 213.98 L385.82 212.83 L386.08 211.70 L386.34 210.64 L386.60 209.71 L386.86 208.94 L387.12 208.36 L387.38 208.00 L387.64 207.88 L387.90 208.00 L388.16 208.33 L388.42 208.88 L388.68 209.61 L388.94 210.49 L389.20 211.48 L389.46 212.55 L389.72 213.64 L389.98 214.70 L390.24 215.69 L390.50 216.58 L390.76 217.30 L391.02 217.85 L391.28 218.18 L391.54 218.30 L391.80 218.19 L392.06 217.89 L392.32 217.39 L392.58 216.73 L392.84 215.92 L393.10 215.01 L393.36 214.04 L393.62 213.05 L393.88 212.07 L394.14 211.17 L394.40 210.36 L394.66 209.70 L394.92 209.20 L395.18 208.89 L395.44 208.79 L395.70 208.89 L395.96 209.17 L396.22 209.64 L396.48 210.26 L396.74 211.01 L397.00 211.86 L397.26 212.77 L397.52 213.70 L397.78 214.60 L398.04 215.45 L398.30 216.20 L398.56 216.83 L398.82 217.29 L399.08 217.58 L399.34 217.68 L399.61 217.58 L399.87 217.29 L400.13 216.81 L400.39 216.18 L400.65 215.42 L400.91 214.56 L401.17 213.64 L401.43 212.69 L401.69 211.77 L401.95 210.91 L402.21 210.15 L402.47 209.52 L402.73 209.04 L402.99 208.75 L403.25 208.65 L403.51 208.75 L403.77 209.04 L404.03 209.50 L404.29 210.11 L404.55 210.86 L404.81 211.70 L405.07 212.60 L405.33 213.52 L405.59 214.42 L405.85 215.26 L406.11 216.01 L406.37 216.62 L406.63 217.08 L406.89 217.37 L407.15 217.46 L407.41 217.37 L407.67 217.08 L407.93 216.61 L408.19 215.98 L408.45 215.23 L408.71 214.37 L408.97 213.46 L409.23 212.52 L409.49 211.61 L409.75 210.76 L410.01 210.00 L410.27 209.38 L410.53 208.91 L410.79 208.62 L411.05 208.52 L411.31 208.62 L411.57 208.90 L411.83 209.35 L412.09 209.97 L412.35 210.70 L412.61 211.54 L412.87 212.43 L413.13 213.34 L413.39 214.24 L413.65 215.07 L413.91 215.81 L414.17 216.42 L414.43 216.87 L414.69 217.16 L414.95 217.25 L415.21 217.15 L415.47 216.87 L415.73 216.40 L415.99 215.78 L416.25 215.04 L416.51 214.19 L416.77 213.28 L417.03 212.36 L417.29 211.45 L417.55 210.60 L417.81 209.85 L418.07 209.23 L418.33 208.77 L418.59 208.48 L418.85 208.39 L419.12 208.48 L419.38 208.76 L419.64 209.21 L419.90 209.82 L420.16 210.55 L420.42 211.38 L420.68 212.26 L420.94 213.17 L421.20 214.05 L421.46 214.88 L421.72 215.61 L421.98 216.21 L422.24 216.67 L422.50 216.94 L422.76 217.04 L423.02 216.94 L423.28 216.66 L423.54 216.20 L423.80 215.59 L424.06 214.84 L424.32 214.00 L424.58 213.11 L424.84 212.19 L425.10 211.29 L425.36 210.45 L425.62 209.71 L425.88 209.09 L426.14 208.63 L426.40 208.35 L426.66 208.25 L426.92 208.35 L427.18 208.62 L427.44 209.07 L427.70 209.67 L427.96 210.40 L428.22 211.22 L428.48 212.09 L428.74 212.99 L429.00 213.87 L429.26 214.68 L429.52 215.41 L429.78 216.01 L430.04 216.46 L430.30 216.73 L430.56 216.83 L430.82 216.73 L431.08 216.45 L431.34 216.00 L431.60 215.39 L431.86 214.65 L432.12 213.82 L432.38 212.93 L432.64 212.02 L432.90 211.13 L433.16 210.30 L433.42 209.56 L433.68 208.95 L433.94 208.50 L434.20 208.22 L434.46 208.12 L434.72 208.21 L434.98 208.48 L435.24 208.91 L435.50 209.50 L435.76 210.20 L436.02 210.99 L436.28 211.84 L436.54 212.71 L436.80 213.56 L437.06 214.35 L437.32 215.05 L437.58 215.63 L437.84 216.07 L438.10 216.34 L438.37 216.43 L438.63 216.34 L438.89 216.08 L439.15 215.66 L439.41 215.09 L439.67 214.41 L439.93 213.64 L440.19 212.82 L440.45 211.97 L440.71 211.15 L440.97 210.38 L441.23 209.70 L441.49 209.13 L441.75 208.71 L442.01 208.45 L442.27 208.36 L442.53 208.45 L442.79 208.69 L443.05 209.08 L443.31 209.61 L443.57 210.24 L443.83 210.96 L444.09 211.73 L444.35 212.51 L444.61 213.28 L444.87 213.99 L445.13 214.63 L445.39 215.15 L445.65 215.55 L445.91 215.79 L446.17 215.87 L446.43 215.79 L446.69 215.56 L446.95 215.19 L447.21 214.68 L447.47 214.08 L447.73 213.39 L447.99 212.66 L448.25 211.91 L448.51 211.18 L448.77 210.49 L449.03 209.89 L449.29 209.38 L449.55 209.01 L449.81 208.78 L450.07 208.70 L450.33 208.77 L450.59 209.00 L450.85 209.36 L451.11 209.84 L451.37 210.43 L451.63 211.08 L451.89 211.79 L452.15 212.51 L452.41 213.22 L452.67 213.88 L452.93 214.46 L453.19 214.94 L453.45 215.31 L453.71 215.53 L453.97 215.60 L454.23 215.53 L454.49 215.31 L454.75 214.96 L455.01 214.48 L455.27 213.91 L455.53 213.26 L455.79 212.56 L456.05 211.85 L456.31 211.16 L456.57 210.51 L456.83 209.94 L457.09 209.46 L457.35 209.11 L457.61 208.89 L457.88 208.81 L458.14 208.89 L458.40 209.10 L458.66 209.45 L458.92 209.91 L459.18 210.47 L459.44 211.11 L459.70 211.79 L459.96 212.48 L460.22 213.16 L460.48 213.80 L460.74 214.36 L461.00 214.82 L461.26 215.17 L461.52 215.38 L461.78 215.46 L462.04 215.38 L462.30 215.17 L462.56 214.83 L462.82 214.38 L463.08 213.82 L463.34 213.20 L463.60 212.53 L463.86 211.85 L464.12 211.18 L464.38 210.56 L464.64 210.01 L464.90 209.55 L465.16 209.21 L465.42 209.00 L465.68 208.93 L465.94 209.00 L466.20 209.20 L466.46 209.54 L466.72 209.98 L466.98 210.52 L467.24 211.13 L467.50 211.78 L467.76 212.45 L468.02 213.10 L468.28 213.71 L468.54 214.25 L468.80 214.70 L469.06 215.03 L469.32 215.24 L469.58 215.31 L469.84 215.24 L470.10 215.04 L470.36 214.71 L470.62 214.27 L470.88 213.74 L471.14 213.14 L471.40 212.50 L471.66 211.85 L471.92 211.21 L472.18 210.61 L472.44 210.08 L472.70 209.64 L472.96 209.31 L473.22 209.11 L473.48 209.04 L473.74 209.11 L474.00 209.31 L474.26 209.63 L474.52 210.05 L474.78 210.57 L475.04 211.16 L475.30 211.78 L475.56 212.42 L475.82 213.05 L476.08 213.63 L476.34 214.15 L476.60 214.58 L476.86 214.90 L477.12 215.09 L477.39 215.16 L477.65 215.10 L477.91 214.91 L478.17 214.61 L478.43 214.20 L478.69 213.71 L478.95 213.16 L479.21 212.56 L479.47 211.96 L479.73 211.36 L479.99 210.81 L480.25 210.32 L480.51 209.91 L480.77 209.61 L481.03 209.42 L481.29 209.36 L481.55 209.41 L481.81 209.58 L482.07 209.84 L482.33 210.20 L482.59 210.62 L482.85 211.11 L483.11 211.63 L483.37 212.16 L483.63 212.67 L483.89 213.16 L484.15 213.59 L484.41 213.94 L484.67 214.21 L484.93 214.37 L485.19 214.42 L485.45 214.38 L485.71 214.24 L485.97 214.03 L486.23 213.73 L486.49 213.38 L486.75 212.98 L487.01 212.55 L487.27 212.12 L487.53 211.69 L487.79 211.29 L488.05 210.94 L488.31 210.65 L488.57 210.43 L488.83 210.29 L489.09 210.25 L489.35 210.28 L489.61 210.39 L489.87 210.57 L490.13 210.80 L490.39 211.08 L490.65 211.40 L490.91 211.74 L491.17 212.09 L491.43 212.44 L491.69 212.75 L491.95 213.04 L492.21 213.27 L492.47 213.45 L492.73 213.55 L492.99 213.59 L493.25 213.56 L493.51 213.46 L493.77 213.31 L494.03 213.10 L494.29 212.85 L494.55 212.57 L494.81 212.27 L495.07 211.96 L495.33 211.65 L495.59 211.37 L495.85 211.12 L496.11 210.91 L496.37 210.76 L496.64 210.66 L496.90 210.63 L497.16 210.66 L497.42 210.76 L497.68 210.91 L497.94 211.11 L498.20 211.35 L498.46 211.62 L498.72 211.92 L498.98 212.22 L499.24 212.51 L499.50 212.78 L499.76 213.03 L500.02 213.23 L500.28 213.38 L500.54 213.47 L500.80 213.50 L501.06 213.47 L501.32 213.38 L501.58 213.23 L501.84 213.04 L502.10 212.80 L502.36 212.53 L502.62 212.24 L502.88 211.95 L503.14 211.66 L503.40 211.39 L503.66 211.15 L503.92 210.96 L504.18 210.81 L504.44 210.72 L504.70 210.69 L504.96 210.72 L505.22 210.80 L505.48 210.95 L505.74 211.14 L506.00 211.37 L506.26 211.63 L506.52 211.91 L506.78 212.19 L507.04 212.47 L507.30 212.73 L507.56 212.96 L507.82 213.15 L508.08 213.30 L508.34 213.38 L508.60 213.41 L508.86 213.38 L509.12 213.30 L509.38 213.16 L509.64 212.97 L509.90 212.75 L510.16 212.49 L510.42 212.22 L510.68 211.94 L510.94 211.67 L511.20 211.41 L511.46 211.18 L511.72 211.00 L511.98 210.86 L512.24 210.77 L512.50 210.74 L512.76 210.77 L513.02 210.85 L513.28 210.99 L513.54 211.17 L513.80 211.39 L514.06 211.64 L514.32 211.90 L514.58 212.18 L514.84 212.44 L515.10 212.69 L515.36 212.91 L515.62 213.09 L515.88 213.23 L516.15 213.31 L516.41 213.34 L516.67 213.31 L516.93 213.23 L517.19 213.09 L517.45 212.91 L517.71 212.69 L517.97 212.45 L518.23 212.19 L518.49 211.92 L518.75 211.65 L519.01 211.41 L519.27 211.19 L519.53 211.01 L519.79 210.88 L520.05 210.79 L520.31 210.76 L520.57 210.79 L520.83 210.87 L521.09 211.01 L521.35 211.18 L521.61 211.40 L521.87 211.64 L522.13 211.90 L522.39 212.16 L522.65 212.42 L522.91 212.66 L523.17 212.87 L523.43 213.05 L523.69 213.18 L523.95 213.26 L524.21 213.29 L524.47 213.26 L524.73 213.18 L524.99 213.05 L525.25 212.87 L525.51 212.66 L525.77 212.42 L526.03 212.17 L526.29 211.90 L526.55 211.65 L526.81 211.41 L527.07 211.19 L527.33 211.02 L527.59 210.89 L527.85 210.81 L528.11 210.78 L528.37 210.81 L528.63 210.89 L528.89 211.01 L529.15 211.19 L529.41 211.40 L529.67 211.63 L529.93 211.88 L530.19 212.14 L530.45 212.39 L530.71 212.63 L530.97 212.83 L531.23 213.01 L531.49 213.14 L531.75 213.22 L532.01 213.24 L532.27 213.22 L532.53 213.14 L532.79 213.01 L533.05 212.84 L533.31 212.63 L533.57 212.40 L533.83 212.15 L534.09 211.89 L534.35 211.64 L534.61 211.41 L534.87 211.20 L535.13 211.03 L535.39 210.90 L535.66 210.82 L535.92 210.79 L536.17 210.82 L536.43 210.91 L536.69 211.04 L536.95 211.21 L537.21 211.40 L537.47 211.58 L537.72 211.75 L537.98 211.89 L538.24 211.97 L538.50 212.00" stroke="#D95319" stroke-width="1.20" fill="none" stroke-linejoin="round"/>
<path d="M301.00 213.00 L301.27 212.97 L301.55 212.90 L301.82 212.83 L302.09 212.80 L302.35 212.73 L302.60 212.51 L302.86 212.16 L303.11 211.68 L303.37 211.07 L303.62 210.36 L303.88 209.54 L304.13 208.64 L304.39 207.68 L304.64 206.67 L304.90 205.63 L305.15 204.57 L305.41 203.53 L305.66 202.52 L305.92 201.56 L306.17 200.66 L306.43 199.84 L306.68 199.13 L306.94 198.52 L307.19 198.04 L307.45 197.69 L307.70 197.47 L307.96 197.40 L308.21 197.51 L308.46 197.84 L308.70 198.37 L308.95 199.10 L309.20 200.01 L309.45 201.07 L309.70 202.26 L309.95 203.55 L310.20 204.91 L310.44 206.30 L310.69 207.69 L310.94 209.05 L311.19 210.34 L311.44 211.53 L311.69 212.59 L311.93 213.50 L312.18 214.23 L312.43 214.76 L312.68 215.09 L312.93 215.20 L313.18 215.15 L313.43 215.02 L313.68 214.79 L313.93 214.49 L314.19 214.11 L314.44 213.68 L314.69 213.21 L314.94 212.72 L315.19 212.21 L315.44 211.72 L315.70 211.25 L315.95 210.82 L316.20 210.44 L316.45 210.14 L316.70 209.91 L316.95 209.78 L317.20 209.73 L317.45 209.79 L317.70 209.96 L317.95 210.24 L318.20 210.62 L318.45 211.08 L318.70 211.61 L318.94 212.18 L319.19 212.77 L319.44 213.36 L319.69 213.93 L319.94 214.46 L320.19 214.92 L320.43 215.30 L320.68 215.58 L320.93 215.75 L321.18 215.81 L321.43 215.75 L321.68 215.58 L321.93 215.31 L322.17 214.94 L322.42 214.49 L322.67 213.97 L322.92 213.41 L323.17 212.83 L323.42 212.25 L323.67 211.69 L323.91 211.17 L324.16 210.72 L324.41 210.35 L324.66 210.08 L324.91 209.91 L325.16 209.85 L325.41 209.91 L325.65 210.07 L325.90 210.34 L326.15 210.71 L326.40 211.15 L326.65 211.65 L326.90 212.20 L327.15 212.77 L327.39 213.34 L327.64 213.89 L327.89 214.39 L328.14 214.83 L328.39 215.20 L328.64 215.47 L328.89 215.63 L329.13 215.69 L329.38 215.64 L329.63 215.47 L329.88 215.21 L330.13 214.85 L330.38 214.42 L330.62 213.92 L330.87 213.39 L331.12 212.83 L331.37 212.27 L331.62 211.74 L331.87 211.24 L332.12 210.81 L332.36 210.45 L332.61 210.19 L332.86 210.02 L333.11 209.97 L333.36 210.02 L333.61 210.18 L333.86 210.44 L334.10 210.79 L334.35 211.21 L334.60 211.70 L334.85 212.22 L335.10 212.76 L335.35 213.31 L335.60 213.83 L335.84 214.32 L336.09 214.74 L336.34 215.09 L336.59 215.35 L336.84 215.51 L337.09 215.56 L337.34 215.51 L337.58 215.35 L337.83 215.10 L338.08 214.76 L338.33 214.35 L338.58 213.88 L338.83 213.37 L339.08 212.84 L339.32 212.31 L339.57 211.80 L339.82 211.33 L340.07 210.92 L340.32 210.58 L340.57 210.33 L340.81 210.17 L341.06 210.12 L341.31 210.17 L341.56 210.32 L341.81 210.56 L342.06 210.89 L342.31 211.29 L342.55 211.75 L342.80 212.24 L343.05 212.76 L343.30 213.28 L343.55 213.77 L343.80 214.23 L344.05 214.63 L344.29 214.96 L344.54 215.20 L344.79 215.35 L345.04 215.40 L345.29 215.35 L345.54 215.21 L345.79 214.97 L346.03 214.65 L346.28 214.26 L346.53 213.82 L346.78 213.34 L347.03 212.84 L347.28 212.34 L347.53 211.86 L347.77 211.42 L348.02 211.03 L348.27 210.71 L348.52 210.47 L348.77 210.33 L349.02 210.28 L349.27 210.33 L349.51 210.47 L349.76 210.70 L350.01 211.01 L350.26 211.38 L350.51 211.81 L350.76 212.28 L351.00 212.76 L351.25 213.24 L351.50 213.71 L351.75 214.14 L352.00 214.51 L352.25 214.82 L352.50 215.05 L352.74 215.19 L352.99 215.24 L353.24 215.19 L353.49 215.06 L353.74 214.84 L353.99 214.54 L354.24 214.17 L354.48 213.76 L354.73 213.31 L354.98 212.84 L355.23 212.37 L355.48 211.92 L355.73 211.51 L355.98 211.14 L356.22 210.84 L356.47 210.62 L356.72 210.49 L356.97 210.44 L357.22 210.48 L357.47 210.62 L357.72 210.83 L357.96 211.12 L358.21 211.47 L358.46 211.87 L358.71 212.31 L358.96 212.76 L359.21 213.21 L359.45 213.65 L359.70 214.05 L359.95 214.40 L360.20 214.69 L360.45 214.90 L360.70 215.04 L360.95 215.08 L361.19 215.04 L361.44 214.91 L361.69 214.70 L361.94 214.42 L362.19 214.08 L362.44 213.70 L362.69 213.28 L362.93 212.84 L363.18 212.40 L363.43 211.98 L363.68 211.60 L363.93 211.26 L364.18 210.98 L364.43 210.77 L364.67 210.64 L364.92 210.60 L365.17 210.64 L365.42 210.76 L365.67 210.96 L365.92 211.22 L366.17 211.55 L366.41 211.92 L366.66 212.32 L366.91 212.73 L367.16 213.15 L367.41 213.55 L367.66 213.92 L367.91 214.24 L368.15 214.51 L368.40 214.70 L368.65 214.83 L368.90 214.87 L369.15 214.83 L369.40 214.71 L369.64 214.53 L369.89 214.28 L370.14 213.98 L370.39 213.63 L370.64 213.26 L370.89 212.87 L371.14 212.48 L371.38 212.10 L371.63 211.76 L371.88 211.45 L372.13 211.20 L372.38 211.02 L372.63 210.91 L372.88 210.87 L373.12 210.90 L373.37 211.01 L373.62 211.18 L373.87 211.41 L374.12 211.70 L374.37 212.02 L374.62 212.37 L374.86 212.73 L375.11 213.10 L375.36 213.45 L375.61 213.77 L375.86 214.05 L376.11 214.29 L376.36 214.46 L376.60 214.56 L376.85 214.60 L377.10 214.57 L377.35 214.47 L377.60 214.31 L377.85 214.09 L378.10 213.83 L378.34 213.53 L378.59 213.20 L378.84 212.87 L379.09 212.53 L379.34 212.20 L379.59 211.90 L379.83 211.64 L380.08 211.43 L380.33 211.27 L380.58 211.17 L380.83 211.13 L381.08 211.16 L381.33 211.26 L381.57 211.40 L381.82 211.60 L382.07 211.84 L382.32 212.12 L382.57 212.42 L382.82 212.73 L383.07 213.05 L383.31 213.35 L383.56 213.62 L383.81 213.86 L384.06 214.06 L384.31 214.21 L384.56 214.30 L384.81 214.33 L385.05 214.31 L385.30 214.22 L385.55 214.09 L385.80 213.90 L386.05 213.68 L386.30 213.43 L386.55 213.15 L386.79 212.87 L387.04 212.58 L387.29 212.31 L387.54 212.05 L387.79 211.83 L388.04 211.65 L388.29 211.51 L388.53 211.43 L388.78 211.40 L389.03 211.43 L389.28 211.50 L389.53 211.62 L389.78 211.79 L390.02 211.99 L390.27 212.22 L390.52 212.47 L390.77 212.73 L391.02 212.99 L391.27 213.24 L391.52 213.47 L391.76 213.68 L392.01 213.84 L392.26 213.97 L392.51 214.04 L392.76 214.07 L393.01 214.04 L393.26 213.97 L393.50 213.86 L393.75 213.71 L394.00 213.52 L394.25 213.31 L394.50 213.08 L394.75 212.85 L395.00 212.61 L395.24 212.38 L395.49 212.17 L395.74 211.98 L395.99 211.83 L396.24 211.72 L396.49 211.65 L396.74 211.62 L396.98 211.65 L397.23 211.71 L397.48 211.82 L397.73 211.96 L397.98 212.14 L398.23 212.34 L398.48 212.55 L398.72 212.78 L398.97 213.00 L399.22 213.22 L399.47 213.42 L399.72 213.59 L399.97 213.73 L400.21 213.84 L400.46 213.91 L400.71 213.93 L400.96 213.91 L401.21 213.84 L401.46 213.74 L401.71 213.60 L401.95 213.44 L402.20 213.25 L402.45 213.04 L402.70 212.82 L402.95 212.61 L403.20 212.40 L403.45 212.21 L403.69 212.04 L403.94 211.91 L404.19 211.80 L404.44 211.74 L404.69 211.72 L404.94 211.74 L405.19 211.80 L405.43 211.90 L405.68 212.03 L405.93 212.19 L406.18 212.37 L406.43 212.57 L406.68 212.78 L406.93 212.98 L407.17 213.18 L407.42 213.36 L407.67 213.52 L407.92 213.65 L408.17 213.75 L408.42 213.81 L408.67 213.83 L408.91 213.81 L409.16 213.76 L409.41 213.66 L409.66 213.54 L409.91 213.38 L410.16 213.21 L410.40 213.02 L410.65 212.82 L410.90 212.63 L411.15 212.44 L411.40 212.26 L411.65 212.11 L411.90 211.99 L412.14 211.89 L412.39 211.84 L412.64 211.82 L412.89 211.83 L413.14 211.89 L413.39 211.98 L413.64 212.10 L413.88 212.24 L414.13 212.41 L414.38 212.59 L414.63 212.78 L414.88 212.96 L415.13 213.14 L415.38 213.31 L415.62 213.45 L415.87 213.57 L416.12 213.66 L416.37 213.72 L416.62 213.74 L416.87 213.72 L417.12 213.67 L417.36 213.58 L417.61 213.47 L417.86 213.33 L418.11 213.17 L418.36 213.00 L418.61 212.82 L418.85 212.65 L419.10 212.47 L419.35 212.32 L419.60 212.18 L419.85 212.07 L420.10 211.98 L420.35 211.93 L420.59 211.91 L420.84 211.93 L421.09 211.98 L421.34 212.06 L421.59 212.17 L421.84 212.30 L422.09 212.45 L422.33 212.61 L422.58 212.78 L422.83 212.94 L423.08 213.11 L423.33 213.26 L423.58 213.39 L423.83 213.49 L424.07 213.57 L424.32 213.62 L424.57 213.64 L424.82 213.62 L425.07 213.58 L425.32 213.50 L425.57 213.40 L425.81 213.28 L426.06 213.14 L426.31 212.98 L426.56 212.82 L426.81 212.66 L427.06 212.51 L427.31 212.37 L427.55 212.25 L427.80 212.15 L428.05 212.07 L428.30 212.02 L428.55 212.01 L428.80 212.02 L429.04 212.07 L429.29 212.14 L429.54 212.23 L429.79 212.35 L430.04 212.48 L430.29 212.63 L430.54 212.78 L430.78 212.93 L431.03 213.07 L431.28 213.20 L431.53 213.32 L431.78 213.41 L432.03 213.49 L432.28 213.53 L432.52 213.54 L432.77 213.53 L433.02 213.49 L433.27 213.42 L433.52 213.33 L433.77 213.22 L434.02 213.10 L434.26 212.96 L434.51 212.82 L434.76 212.68 L435.01 212.55 L435.26 212.42 L435.51 212.31 L435.76 212.23 L436.00 212.16 L436.25 212.12 L436.50 212.10 L436.75 212.12 L437.00 212.16 L437.25 212.22 L437.50 212.30 L437.74 212.40 L437.99 212.52 L438.24 212.64 L438.49 212.78 L438.74 212.91 L438.99 213.03 L439.23 213.15 L439.48 213.25 L439.73 213.33 L439.98 213.40 L440.23 213.44 L440.48 213.45 L440.73 213.44 L440.97 213.40 L441.22 213.34 L441.47 213.27 L441.72 213.17 L441.97 213.06 L442.22 212.95 L442.47 212.82 L442.71 212.70 L442.96 212.59 L443.21 212.48 L443.46 212.38 L443.71 212.31 L443.96 212.25 L444.21 212.21 L444.45 212.20 L444.70 212.21 L444.95 212.25 L445.20 212.30 L445.45 212.37 L445.70 212.46 L445.95 212.57 L446.19 212.68 L446.44 212.79 L446.69 212.91 L446.94 213.02 L447.19 213.12 L447.44 213.21 L447.69 213.29 L447.93 213.34 L448.18 213.38 L448.43 213.39 L448.68 213.38 L448.93 213.34 L449.18 213.29 L449.42 213.22 L449.67 213.13 L449.92 213.03 L450.17 212.92 L450.42 212.81 L450.67 212.69 L450.92 212.58 L451.16 212.48 L451.41 212.40 L451.66 212.32 L451.91 212.27 L452.16 212.24 L452.41 212.23 L452.66 212.24 L452.90 212.27 L453.15 212.32 L453.40 212.39 L453.65 212.48 L453.90 212.58 L454.15 212.68 L454.40 212.79 L454.64 212.90 L454.89 213.01 L455.14 213.11 L455.39 213.20 L455.64 213.27 L455.89 213.32 L456.14 213.35 L456.38 213.36 L456.63 213.35 L456.88 213.32 L457.13 213.27 L457.38 213.20 L457.63 213.12 L457.88 213.02 L458.12 212.91 L458.37 212.81 L458.62 212.70 L458.87 212.59 L459.12 212.50 L459.37 212.41 L459.61 212.34 L459.86 212.29 L460.11 212.26 L460.36 212.25 L460.61 212.26 L460.86 212.29 L461.11 212.34 L461.35 212.41 L461.60 212.49 L461.85 212.59 L462.10 212.69 L462.35 212.79 L462.60 212.90 L462.85 213.00 L463.09 213.10 L463.34 213.18 L463.59 213.25 L463.84 213.30 L464.09 213.33 L464.34 213.34 L464.59 213.33 L464.83 213.30 L465.08 213.25 L465.33 213.18 L465.58 213.10 L465.83 213.01 L466.08 212.91 L466.33 212.81 L466.57 212.70 L466.82 212.60 L467.07 212.51 L467.32 212.43 L467.57 212.37 L467.82 212.32 L468.07 212.29 L468.31 212.28 L468.56 212.29 L468.81 212.32 L469.06 212.36 L469.31 212.43 L469.56 212.51 L469.80 212.60 L470.05 212.69 L470.30 212.79 L470.55 212.89 L470.80 212.99 L471.05 213.08 L471.30 213.16 L471.54 213.22 L471.79 213.27 L472.04 213.30 L472.29 213.31 L472.54 213.30 L472.79 213.27 L473.04 213.23 L473.28 213.16 L473.53 213.09 L473.78 213.00 L474.03 212.90 L474.28 212.81 L474.53 212.71 L474.78 212.61 L475.02 212.53 L475.27 212.45 L475.52 212.39 L475.77 212.34 L476.02 212.31 L476.27 212.30 L476.52 212.31 L476.76 212.34 L477.01 212.38 L477.26 212.45 L477.51 212.52 L477.76 212.61 L478.01 212.70 L478.25 212.79 L478.50 212.89 L478.75 212.98 L479.00 213.07 L479.25 213.14 L479.50 213.20 L479.75 213.25 L479.99 213.28 L480.24 213.29 L480.49 213.28 L480.74 213.25 L480.99 213.21 L481.24 213.15 L481.49 213.07 L481.73 212.99 L481.98 212.90 L482.23 212.81 L482.48 212.71 L482.73 212.62 L482.98 212.54 L483.23 212.47 L483.47 212.41 L483.72 212.36 L483.97 212.34 L484.22 212.33 L484.47 212.34 L484.72 212.36 L484.97 212.41 L485.21 212.46 L485.46 212.53 L485.71 212.61 L485.96 212.70 L486.21 212.79 L486.46 212.88 L486.71 212.97 L486.95 213.05 L487.20 213.12 L487.45 213.18 L487.70 213.23 L487.95 213.25 L488.20 213.26 L488.44 213.25 L488.69 213.23 L488.94 213.18 L489.19 213.13 L489.44 213.06 L489.69 212.98 L489.94 212.90 L490.18 212.81 L490.43 212.72 L490.68 212.63 L490.93 212.55 L491.18 212.48 L491.43 212.43 L491.68 212.39 L491.92 212.36 L492.17 212.35 L492.42 212.36 L492.67 212.39 L492.92 212.43 L493.17 212.48 L493.42 212.55 L493.66 212.62 L493.91 212.71 L494.16 212.79 L494.41 212.88 L494.66 212.96 L494.91 213.04 L495.16 213.11 L495.40 213.16 L495.65 213.20 L495.90 213.23 L496.15 213.24 L496.40 213.23 L496.65 213.20 L496.90 213.16 L497.14 213.11 L497.39 213.04 L497.64 212.97 L497.89 212.89 L498.14 212.81 L498.39 212.72 L498.63 212.64 L498.88 212.57 L499.13 212.50 L499.38 212.45 L499.63 212.41 L499.88 212.39 L500.13 212.38 L500.37 212.38 L500.62 212.41 L500.87 212.45 L501.12 212.50 L501.37 212.56 L501.62 212.63 L501.87 212.71 L502.11 212.79 L502.36 212.88 L502.61 212.95 L502.86 213.03 L503.11 213.09 L503.36 213.14 L503.61 213.18 L503.85 213.20 L504.10 213.21 L504.35 213.20 L504.60 213.18 L504.85 213.14 L505.10 213.09 L505.35 213.03 L505.59 212.96 L505.84 212.89 L506.09 212.81 L506.34 212.73 L506.59 212.65 L506.84 212.58 L507.09 212.52 L507.33 212.47 L507.58 212.43 L507.83 212.41 L508.08 212.40 L508.33 212.41 L508.58 212.43 L508.82 212.47 L509.07 212.52 L509.32 212.58 L509.57 212.64 L509.82 212.72 L510.07 212.79 L510.32 212.87 L510.56 212.94 L510.81 213.01 L511.06 213.07 L511.31 213.12 L511.56 213.16 L511.81 213.18 L512.06 213.19 L512.30 213.18 L512.55 213.16 L512.80 213.12 L513.05 213.07 L513.30 213.02 L513.55 212.95 L513.80 212.88 L514.04 212.81 L514.29 212.73 L514.54 212.66 L514.79 212.60 L515.04 212.54 L515.29 212.49 L515.54 212.46 L515.78 212.43 L516.03 212.43 L516.28 212.43 L516.53 212.46 L516.78 212.49 L517.03 212.53 L517.28 212.59 L517.52 212.65 L517.77 212.72 L518.02 212.79 L518.27 212.87 L518.52 212.93 L518.77 213.00 L519.01 213.05 L519.26 213.10 L519.51 213.13 L519.76 213.15 L520.01 213.16 L520.26 213.15 L520.51 213.13 L520.75 213.10 L521.00 213.06 L521.25 213.00 L521.50 212.94 L521.75 212.88 L522.00 212.81 L522.25 212.74 L522.49 212.67 L522.74 212.61 L522.99 212.56 L523.24 212.51 L523.49 212.48 L523.74 212.46 L523.99 212.45 L524.23 212.46 L524.48 212.48 L524.73 212.51 L524.98 212.55 L525.23 212.60 L525.48 212.66 L525.73 212.73 L525.97 212.79 L526.22 212.86 L526.47 212.92 L526.72 212.98 L526.97 213.03 L527.22 213.08 L527.47 213.11 L527.71 213.13 L527.96 213.13 L528.21 213.13 L528.46 213.11 L528.71 213.08 L528.96 213.04 L529.20 212.99 L529.45 212.93 L529.70 212.87 L529.95 212.81 L530.20 212.74 L530.45 212.68 L530.70 212.62 L530.94 212.57 L531.19 212.53 L531.44 212.50 L531.69 212.48 L531.94 212.48 L532.19 212.48 L532.44 212.50 L532.68 212.53 L532.93 212.57 L533.18 212.62 L533.43 212.67 L533.68 212.73 L533.93 212.79 L534.18 212.86 L534.42 212.91 L534.67 212.97 L534.92 213.02 L535.17 213.06 L535.42 213.09 L535.67 213.10 L535.92 213.11 L536.17 213.10 L536.43 213.08 L536.69 213.05 L536.95 213.00 L537.21 212.95 L537.47 212.91 L537.72 212.86 L537.98 212.83 L538.24 212.81 L538.50 212.80" stroke="#EDB120" stroke-width="1.20" fill="none" stroke-linejoin="round"/>
<path d="M300.90 238.90V236.50M300.90 159.10V161.50M324.66 238.90V236.50M324.66 159.10V161.50M348.42 238.90V236.50M348.42 159.10V161.50M372.18 238.90V236.50M372.18 159.10V161.50M395.94 238.90V236.50M395.94 159.10V161.50M419.70 238.90V236.50M419.70 159.10V161.50M443.46 238.90V236.50M443.46 159.10V161.50M467.22 238.90V236.50M467.22 159.10V161.50M490.98 238.90V236.50M490.98 159.10V161.50M514.74 238.90V236.50M514.74 159.10V161.50M538.50 238.90V236.50M538.50 159.10V161.50M300.90 159.10H303.30M538.50 159.10H536.10M300.90 176.83H303.30M538.50 176.83H536.10M300.90 194.57H303.30M538.50 194.57H536.10M300.90 212.30H303.30M538.50 212.30H536.10M300.90 230.03H303.30M538.50 230.03H536.10M300.90 163.53H302.20M538.50 163.53H537.20M300.90 167.97H302.20M538.50 167.97H537.20M300.90 172.40H302.20M538.50 172.40H537.20M300.90 181.27H302.20M538.50 181.27H537.20M300.90 185.70H302.20M538.50 185.70H537.20M300.90 190.13H302.20M538.50 190.13H537.20M300.90 199.00H302.20M538.50 199.00H537.20M300.90 203.43H302.20M538.50 203.43H537.20M300.90 207.87H302.20M538.50 207.87H537.20M300.90 216.73H302.20M538.50 216.73H537.20M300.90 221.17H302.20M538.50 221.17H537.20M300.90 225.60H302.20M538.50 225.60H537.20M300.90 234.47H302.20M538.50 234.47H537.20" stroke="#b4b4b4" stroke-width="0.7" fill="none"/>
<rect x="300.90" y="159.10" width="237.60" height="79.80" fill="none" stroke="#b4b4b4" stroke-width="0.8"/>
<text x="300.90" y="247.80" font-size="7.70" text-anchor="middle" font-weight="normal" >0</text>
<text x="324.66" y="247.80" font-size="7.70" text-anchor="middle" font-weight="normal" >1</text>
<text x="348.42" y="247.80" font-size="7.70" text-anchor="middle" font-weight="normal" >2</text>
<text x="372.18" y="247.80" font-size="7.70" text-anchor="middle" font-weight="normal" >3</text>
<text x="395.94" y="247.80" font-size="7.70" text-anchor="middle" font-weight="normal" >4</text>
<text x="419.70" y="247.80" font-size="7.70" text-anchor="middle" font-weight="normal" >5</text>
<text x="443.46" y="247.80" font-size="7.70" text-anchor="middle" font-weight="normal" >6</text>
<text x="467.22" y="247.80" font-size="7.70" text-anchor="middle" font-weight="normal" >7</text>
<text x="490.98" y="247.80" font-size="7.70" text-anchor="middle" font-weight="normal" >8</text>
<text x="514.74" y="247.80" font-size="7.70" text-anchor="middle" font-weight="normal" >9</text>
<text x="538.50" y="247.80" font-size="7.70" text-anchor="middle" font-weight="normal" >10</text>
<text x="298.90" y="161.60" font-size="7.30" text-anchor="end" font-weight="normal" >6</text>
<text x="298.90" y="179.33" font-size="7.30" text-anchor="end" font-weight="normal" >4</text>
<text x="298.90" y="197.07" font-size="7.30" text-anchor="end" font-weight="normal" >2</text>
<text x="298.90" y="214.80" font-size="7.30" text-anchor="end" font-weight="normal" >0</text>
<text x="298.90" y="232.53" font-size="7.30" text-anchor="end" font-weight="normal" >−2</text>
<text x="301.70" y="156.60" font-size="7.70">×10<tspan font-size="5.80" dy="-2.4" dx="0.5">−3</tspan></text>
<text x="419.70" y="155.90" font-size="8.50" text-anchor="middle" font-weight="bold" >TDG − Secondary case</text>
<text x="419.70" y="258.70" font-size="8.40" text-anchor="middle" font-weight="normal" >Time [s]</text>
<text transform="translate(287.70 199.30) rotate(-90)" font-size="8.50" text-anchor="middle">Amplitude [deg]</text>
<text x="412.00" y="277.70" font-size="12.20" text-anchor="middle" font-weight="normal" >(d)</text>
<rect x="518.10" y="159.90" width="19.40" height="25.60" fill="#fff" stroke="#c4c4c4" stroke-width="0.8"/>
<line x1="521.30" y1="165.20" x2="528.00" y2="165.20" stroke="#0072BD" stroke-width="1.3"/>
<text x="528.50" y="168.30" font-size="7.40" text-anchor="start" font-weight="normal" stroke="#333" stroke-width="0.3">Θ</text>
<line x1="521.30" y1="173.20" x2="528.00" y2="173.20" stroke="#D95319" stroke-width="1.3"/>
<text x="528.50" y="176.30" font-size="7.40" text-anchor="start" font-weight="normal" stroke="#333" stroke-width="0.3">Φ</text>
<line x1="521.30" y1="181.20" x2="528.00" y2="181.20" stroke="#EDB120" stroke-width="1.3"/>
<text x="528.50" y="184.30" font-size="7.40" text-anchor="start" font-weight="normal" stroke="#333" stroke-width="0.3">Ψ</text>
</g></svg>
</body></html>
